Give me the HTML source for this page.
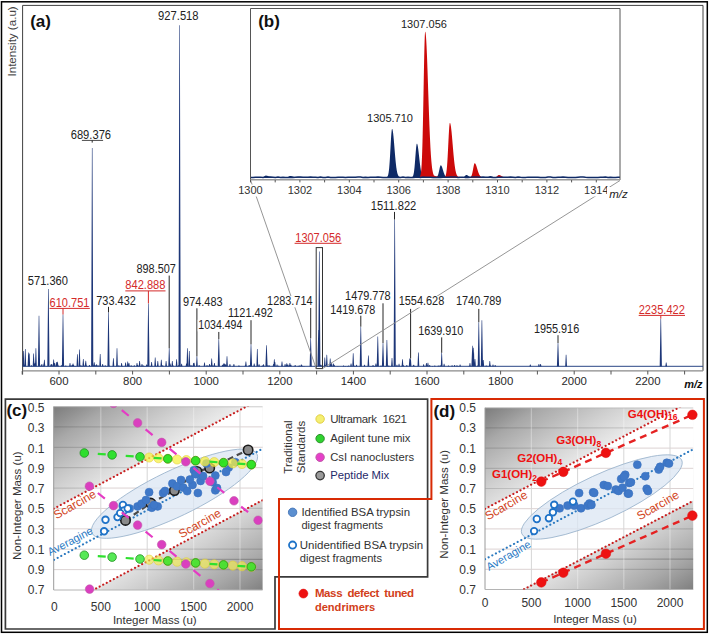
<!DOCTYPE html><html><head><meta charset="utf-8"><style>html,body{margin:0;padding:0;background:#fff;}svg{display:block;}</style></head><body><svg width="709" height="634" viewBox="0 0 709 634" font-family="Liberation Sans, sans-serif">
<defs>
<linearGradient id="gc" gradientUnits="userSpaceOnUse" x1="54.3" y1="406.5" x2="195.4" y2="632.3"><stop offset="0" stop-color="#7c7c7c"/><stop offset="0.06" stop-color="#929292"/><stop offset="0.113" stop-color="#a8a8a8"/><stop offset="0.19" stop-color="#bdbdbd"/><stop offset="0.26" stop-color="#d0d0d0"/><stop offset="0.36" stop-color="#e8e8e8"/><stop offset="0.5" stop-color="#fafafa"/><stop offset="0.64" stop-color="#e8e8e8"/><stop offset="0.74" stop-color="#d0d0d0"/><stop offset="0.81" stop-color="#bdbdbd"/><stop offset="0.887" stop-color="#a8a8a8"/><stop offset="0.94" stop-color="#969696"/><stop offset="1" stop-color="#808080"/></linearGradient>
<linearGradient id="gd" gradientUnits="userSpaceOnUse" x1="485" y1="407.7" x2="624.9" y2="631.5"><stop offset="0" stop-color="#7c7c7c"/><stop offset="0.06" stop-color="#929292"/><stop offset="0.113" stop-color="#a8a8a8"/><stop offset="0.19" stop-color="#bdbdbd"/><stop offset="0.26" stop-color="#d0d0d0"/><stop offset="0.36" stop-color="#e8e8e8"/><stop offset="0.5" stop-color="#fafafa"/><stop offset="0.64" stop-color="#e8e8e8"/><stop offset="0.74" stop-color="#d0d0d0"/><stop offset="0.81" stop-color="#bdbdbd"/><stop offset="0.887" stop-color="#a8a8a8"/><stop offset="0.94" stop-color="#969696"/><stop offset="1" stop-color="#808080"/></linearGradient>
<clipPath id="cc"><rect x="53.7" y="406.5" width="208.9" height="183.5"/></clipPath>
<clipPath id="cd"><rect x="485" y="407.7" width="208.2" height="181.8"/></clipPath>
<clipPath id="bc"><polygon points="53.7,508.7 246.5,406.5 262.6,406.5 262.6,500.2 93.1,590 53.7,590"/></clipPath>
<clipPath id="bd"><polygon points="485,508.8 677,407.7 693.2,407.7 693.2,500.6 522,589.5 485,589.5"/></clipPath>
</defs>
<rect x="0" y="0" width="709" height="634" fill="#fff"/>
<path d="M22.6 374.5 V5.4 H703 V370.8" fill="none" stroke="#404040" stroke-width="1"/>
<line x1="22.6" y1="370.9" x2="703" y2="370.9" stroke="#8a8a8a" stroke-width="1.4"/>
<line x1="22.2" y1="370.9" x2="22.2" y2="374.5" stroke="#555" stroke-width="1"/>
<line x1="59.0" y1="370.9" x2="59.0" y2="374.5" stroke="#555" stroke-width="1"/>
<line x1="95.8" y1="370.9" x2="95.8" y2="374.5" stroke="#555" stroke-width="1"/>
<line x1="132.6" y1="370.9" x2="132.6" y2="374.5" stroke="#555" stroke-width="1"/>
<line x1="169.4" y1="370.9" x2="169.4" y2="374.5" stroke="#555" stroke-width="1"/>
<line x1="206.2" y1="370.9" x2="206.2" y2="374.5" stroke="#555" stroke-width="1"/>
<line x1="243.0" y1="370.9" x2="243.0" y2="374.5" stroke="#555" stroke-width="1"/>
<line x1="279.8" y1="370.9" x2="279.8" y2="374.5" stroke="#555" stroke-width="1"/>
<line x1="316.6" y1="370.9" x2="316.6" y2="374.5" stroke="#555" stroke-width="1"/>
<line x1="353.4" y1="370.9" x2="353.4" y2="374.5" stroke="#555" stroke-width="1"/>
<line x1="390.2" y1="370.9" x2="390.2" y2="374.5" stroke="#555" stroke-width="1"/>
<line x1="427.0" y1="370.9" x2="427.0" y2="374.5" stroke="#555" stroke-width="1"/>
<line x1="463.8" y1="370.9" x2="463.8" y2="374.5" stroke="#555" stroke-width="1"/>
<line x1="500.6" y1="370.9" x2="500.6" y2="374.5" stroke="#555" stroke-width="1"/>
<line x1="537.4" y1="370.9" x2="537.4" y2="374.5" stroke="#555" stroke-width="1"/>
<line x1="574.2" y1="370.9" x2="574.2" y2="374.5" stroke="#555" stroke-width="1"/>
<line x1="611.0" y1="370.9" x2="611.0" y2="374.5" stroke="#555" stroke-width="1"/>
<line x1="647.8" y1="370.9" x2="647.8" y2="374.5" stroke="#555" stroke-width="1"/>
<line x1="684.6" y1="370.9" x2="684.6" y2="374.5" stroke="#555" stroke-width="1"/>
<text x="59.00" y="385.40" font-size="11.4" fill="#2a2a2a" text-anchor="middle" font-weight="normal" font-style="normal" >600</text>
<text x="132.60" y="385.40" font-size="11.4" fill="#2a2a2a" text-anchor="middle" font-weight="normal" font-style="normal" >800</text>
<text x="206.20" y="385.40" font-size="11.4" fill="#2a2a2a" text-anchor="middle" font-weight="normal" font-style="normal" >1000</text>
<text x="279.80" y="385.40" font-size="11.4" fill="#2a2a2a" text-anchor="middle" font-weight="normal" font-style="normal" >1200</text>
<text x="353.40" y="385.40" font-size="11.4" fill="#2a2a2a" text-anchor="middle" font-weight="normal" font-style="normal" >1400</text>
<text x="427.00" y="385.40" font-size="11.4" fill="#2a2a2a" text-anchor="middle" font-weight="normal" font-style="normal" >1600</text>
<text x="500.60" y="385.40" font-size="11.4" fill="#2a2a2a" text-anchor="middle" font-weight="normal" font-style="normal" >1800</text>
<text x="574.20" y="385.40" font-size="11.4" fill="#2a2a2a" text-anchor="middle" font-weight="normal" font-style="normal" >2000</text>
<text x="647.80" y="385.40" font-size="11.4" fill="#2a2a2a" text-anchor="middle" font-weight="normal" font-style="normal" >2200</text>
<text x="702.50" y="388.00" font-size="11" fill="#111" text-anchor="end" font-weight="bold" font-style="italic" >m/z</text>
<text transform="translate(16,41.4) rotate(-90)" font-size="11.6" fill="#444" text-anchor="middle">Intensity (a.u)</text>
<text x="30.20" y="26.80" font-size="17" fill="#111" text-anchor="start" font-weight="bold" font-style="normal" >(a)</text>
<path d="M22.50 366.60L23.10 351.10L23.70 351.10L24.30 366.60ZM24.40 366.60L25.00 349.10L25.60 349.10L26.20 366.60ZM27.60 366.60L28.20 352.50L28.80 352.50L29.40 366.60ZM28.40 366.60L29.00 353.60L29.60 353.60L30.20 366.60ZM32.70 366.60L33.30 353.60L33.90 353.60L34.50 366.60ZM35.00 366.60L35.60 348.30L36.20 348.30L36.80 366.60ZM37.90 366.60L38.72 315.70L39.28 315.70L40.10 366.60ZM43.50 366.60L44.10 359.70L44.70 359.70L45.30 366.60ZM47.30 366.60L48.12 289.00L48.68 289.00L49.50 366.60ZM55.70 366.60L56.30 361.90L56.90 361.90L57.50 366.60ZM61.90 366.60L62.72 314.50L63.28 314.50L64.10 366.60ZM69.10 366.60L69.70 363.00L70.30 363.00L70.90 366.60ZM76.50 366.60L77.10 354.30L77.70 354.30L78.30 366.60ZM78.60 366.60L79.20 349.40L79.80 349.40L80.40 366.60ZM82.40 366.60L83.00 359.10L83.60 359.10L84.20 366.60ZM84.90 366.60L85.50 360.80L86.10 360.80L86.70 366.60ZM91.10 366.60L91.92 148.00L92.48 148.00L93.30 366.60ZM99.30 366.60L99.90 354.00L100.50 354.00L101.10 366.60ZM107.40 366.60L108.22 312.30L108.78 312.30L109.60 366.60ZM112.50 366.60L113.10 358.20L113.70 358.20L114.30 366.60ZM116.10 366.60L116.70 348.30L117.30 348.30L117.90 366.60ZM120.70 366.60L121.30 363.00L121.90 363.00L122.50 366.60ZM124.70 366.60L125.30 362.50L125.90 362.50L126.50 366.60ZM128.10 366.60L128.70 363.00L129.30 363.00L129.90 366.60ZM136.10 366.60L136.70 363.00L137.30 363.00L137.90 366.60ZM141.10 366.60L141.70 364.00L142.30 364.00L142.90 366.60ZM147.30 366.60L148.12 303.40L148.68 303.40L149.50 366.60ZM150.70 366.60L151.30 362.00L151.90 362.00L152.50 366.60ZM154.30 366.60L154.90 357.40L155.50 357.40L156.10 366.60ZM156.90 366.60L157.50 361.00L158.10 361.00L158.70 366.60ZM160.40 366.60L161.00 359.70L161.60 359.70L162.20 366.60ZM165.20 366.60L165.80 361.10L166.40 361.10L167.00 366.60ZM168.30 366.60L168.90 348.30L169.50 348.30L170.10 366.60ZM171.40 366.60L172.00 361.00L172.60 361.00L173.20 366.60ZM175.70 366.60L176.30 359.30L176.90 359.30L177.50 366.60ZM178.50 366.60L179.32 25.20L179.88 25.20L180.70 366.60ZM186.50 366.60L187.10 348.30L187.70 348.30L188.30 366.60ZM188.40 366.60L189.00 351.10L189.60 351.10L190.20 366.60ZM192.60 366.60L193.20 363.00L193.80 363.00L194.40 366.60ZM196.00 366.60L196.60 356.30L197.20 356.30L197.80 366.60ZM203.60 366.60L204.20 362.50L204.80 362.50L205.40 366.60ZM210.80 366.60L211.40 358.50L212.00 358.50L212.60 366.60ZM217.70 366.60L218.52 339.20L219.08 339.20L219.90 366.60ZM226.10 366.60L226.70 356.30L227.30 356.30L227.90 366.60ZM233.00 366.60L233.60 364.00L234.20 364.00L234.80 366.60ZM245.00 366.60L245.60 361.40L246.20 361.40L246.80 366.60ZM249.90 366.60L250.72 344.30L251.28 344.30L252.10 366.60ZM253.30 366.60L253.90 363.50L254.50 363.50L255.10 366.60ZM256.40 366.60L257.00 349.10L257.60 349.10L258.20 366.60ZM265.40 366.60L266.22 345.20L266.78 345.20L267.60 366.60ZM273.40 366.60L274.00 359.30L274.60 359.30L275.20 366.60ZM281.10 366.60L281.70 361.40L282.30 361.40L282.90 366.60ZM285.70 366.60L286.30 364.50L286.90 364.50L287.50 366.60ZM309.60 366.60L310.42 338.40L310.98 338.40L311.80 366.60ZM317.40 366.60L318.22 330.00L318.78 330.00L319.60 366.60ZM318.20 366.60L319.02 251.40L319.58 251.40L320.40 366.60ZM323.90 366.60L324.50 357.40L325.10 357.40L325.70 366.60ZM325.90 366.60L326.50 354.80L327.10 354.80L327.70 366.60ZM329.30 366.60L329.90 358.50L330.50 358.50L331.10 366.60ZM332.70 366.60L333.30 363.50L333.90 363.50L334.50 366.60ZM352.30 366.60L352.90 353.20L353.50 353.20L354.10 366.60ZM359.70 366.60L360.52 326.70L361.08 326.70L361.90 366.60ZM367.50 366.60L368.10 355.50L368.70 355.50L369.30 366.60ZM376.70 366.60L377.52 336.60L378.08 336.60L378.90 366.60ZM381.90 366.60L382.72 343.00L383.28 343.00L384.10 366.60ZM385.80 366.60L386.62 340.00L387.18 340.00L388.00 366.60ZM391.10 366.60L391.70 358.00L392.30 358.00L392.90 366.60ZM393.60 366.60L394.42 219.40L394.98 219.40L395.80 366.60ZM401.60 366.60L402.20 359.30L402.80 359.30L403.40 366.60ZM408.80 366.60L409.40 358.50L410.00 358.50L410.60 366.60ZM409.70 366.60L410.30 358.50L410.90 358.50L411.50 366.60ZM417.50 366.60L418.10 352.50L418.70 352.50L419.30 366.60ZM425.50 366.60L426.10 363.00L426.70 363.00L427.30 366.60ZM440.80 366.60L441.40 352.80L442.00 352.80L442.60 366.60ZM459.20 366.60L459.80 364.50L460.40 364.50L461.00 366.60ZM471.40 366.60L472.22 345.70L472.78 345.70L473.60 366.60ZM472.70 366.60L473.30 347.70L473.90 347.70L474.50 366.60ZM474.10 366.60L474.70 359.00L475.30 359.00L475.90 366.60ZM477.70 366.60L478.52 322.20L479.08 322.20L479.90 366.60ZM480.80 366.60L481.62 320.20L482.18 320.20L483.00 366.60ZM482.40 366.60L483.00 360.00L483.60 360.00L484.20 366.60ZM488.90 366.60L489.50 361.10L490.10 361.10L490.70 366.60ZM492.10 366.60L492.70 364.50L493.30 364.50L493.90 366.60ZM529.40 366.60L530.00 364.50L530.60 364.50L531.20 366.60ZM538.00 366.60L538.60 364.00L539.20 364.00L539.80 366.60ZM539.70 366.60L540.30 364.00L540.90 364.00L541.50 366.60ZM556.90 366.60L557.72 343.00L558.28 343.00L559.10 366.60ZM565.20 366.60L565.80 354.80L566.40 354.80L567.00 366.60ZM659.70 366.60L660.52 318.70L661.08 318.70L661.90 366.60ZM665.30 366.60L665.90 362.40L666.50 362.40L667.10 366.60ZM176.57 366.60L177.17 366.04L177.77 366.04L178.37 366.60ZM332.60 366.60L333.20 366.25L333.80 366.25L334.40 366.60ZM277.72 366.60L278.32 365.79L278.92 365.79L279.52 366.60ZM49.77 366.60L50.37 365.17L50.97 365.17L51.57 366.60ZM39.99 366.60L40.59 365.39L41.19 365.39L41.79 366.60ZM55.42 366.60L56.02 366.15L56.62 366.15L57.22 366.60ZM224.60 366.60L225.20 364.34L225.80 364.34L226.40 366.60ZM81.15 366.60L81.75 365.90L82.35 365.90L82.95 366.60ZM321.39 366.60L321.99 364.18L322.59 364.18L323.19 366.60ZM297.38 366.60L297.98 365.73L298.58 365.73L299.18 366.60ZM487.77 366.60L488.37 366.27L488.97 366.27L489.57 366.60ZM431.59 366.60L432.19 366.05L432.79 366.05L433.39 366.60ZM90.91 366.60L91.51 366.10L92.11 366.10L92.71 366.60ZM169.25 366.60L169.85 363.59L170.45 363.59L171.05 366.60ZM108.31 366.60L108.91 364.91L109.51 364.91L110.11 366.60ZM326.86 366.60L327.46 365.96L328.06 365.96L328.66 366.60ZM283.37 366.60L283.97 366.23L284.57 366.23L285.17 366.60ZM50.53 366.60L51.13 365.93L51.73 365.93L52.33 366.60ZM346.65 366.60L347.25 365.90L347.85 365.90L348.45 366.60ZM171.95 366.60L172.55 364.89L173.15 364.89L173.75 366.60ZM238.27 366.60L238.87 365.90L239.47 365.90L240.07 366.60ZM401.02 366.60L401.62 365.44L402.22 365.44L402.82 366.60ZM138.53 366.60L139.13 364.93L139.73 364.93L140.33 366.60ZM272.62 366.60L273.22 363.97L273.82 363.97L274.42 366.60ZM370.05 366.60L370.65 366.06L371.25 366.06L371.85 366.60ZM489.64 366.60L490.24 366.21L490.84 366.21L491.44 366.60ZM221.54 366.60L222.14 364.71L222.74 364.71L223.34 366.60ZM94.60 366.60L95.20 365.23L95.80 365.23L96.40 366.60ZM40.80 366.60L41.40 364.53L42.00 364.53L42.60 366.60ZM386.80 366.60L387.40 365.69L388.00 365.69L388.60 366.60ZM439.70 366.60L440.30 366.03L440.90 366.03L441.50 366.60ZM353.76 366.60L354.36 365.65L354.96 365.65L355.56 366.60ZM298.71 366.60L299.31 365.62L299.91 365.62L300.51 366.60ZM422.76 366.60L423.36 364.22L423.96 364.22L424.56 366.60ZM248.24 366.60L248.84 365.08L249.44 365.08L250.04 366.60ZM51.04 366.60L51.64 364.37L52.24 364.37L52.84 366.60ZM330.78 366.60L331.38 362.72L331.98 362.72L332.58 366.60ZM414.16 366.60L414.76 366.06L415.36 366.06L415.96 366.60ZM206.12 366.60L206.72 365.06L207.32 365.06L207.92 366.60ZM32.86 366.60L33.46 365.31L34.06 365.31L34.66 366.60ZM102.26 366.60L102.86 366.10L103.46 366.10L104.06 366.60ZM50.22 366.60L50.82 363.96L51.42 363.96L52.02 366.60ZM83.80 366.60L84.40 365.84L85.00 365.84L85.60 366.60ZM208.58 366.60L209.18 364.00L209.78 364.00L210.38 366.60ZM60.54 366.60L61.14 365.35L61.74 365.35L62.34 366.60ZM284.18 366.60L284.78 363.89L285.38 363.89L285.98 366.60ZM412.90 366.60L413.50 364.86L414.10 364.86L414.70 366.60ZM154.91 366.60L155.51 365.44L156.11 365.44L156.71 366.60ZM193.23 366.60L193.83 362.85L194.43 362.85L195.03 366.60ZM478.94 366.60L479.54 366.18L480.14 366.18L480.74 366.60ZM106.16 366.60L106.76 365.88L107.36 365.88L107.96 366.60ZM133.40 366.60L134.00 365.24L134.60 365.24L135.20 366.60ZM303.11 366.60L303.71 366.08L304.31 366.08L304.91 366.60ZM24.05 366.60L24.65 365.43L25.25 365.43L25.85 366.60ZM198.23 366.60L198.83 364.96L199.43 364.96L200.03 366.60ZM476.73 366.60L477.33 365.46L477.93 365.46L478.53 366.60ZM267.99 366.60L268.59 365.22L269.19 365.22L269.79 366.60ZM344.65 366.60L345.25 366.26L345.85 366.26L346.45 366.60ZM451.18 366.60L451.78 365.21L452.38 365.21L452.98 366.60ZM439.24 366.60L439.84 365.15L440.44 365.15L441.04 366.60ZM209.26 366.60L209.86 365.73L210.46 365.73L211.06 366.60ZM71.49 366.60L72.09 364.69L72.69 364.69L73.29 366.60ZM51.79 366.60L52.39 366.19L52.99 366.19L53.59 366.60ZM121.68 366.60L122.28 366.02L122.88 366.02L123.48 366.60ZM184.31 366.60L184.91 366.21L185.51 366.21L186.11 366.60ZM22.21 366.60L22.81 366.04L23.41 366.04L24.01 366.60ZM70.50 366.60L71.10 365.58L71.70 365.58L72.30 366.60ZM34.26 366.60L34.86 362.98L35.46 362.98L36.06 366.60ZM315.01 366.60L315.61 366.18L316.21 366.18L316.81 366.60ZM142.43 366.60L143.03 365.62L143.63 365.62L144.23 366.60ZM195.81 366.60L196.41 366.09L197.01 366.09L197.61 366.60ZM427.04 366.60L427.64 362.72L428.24 362.72L428.84 366.60ZM244.38 366.60L244.98 365.56L245.58 365.56L246.18 366.60ZM63.07 366.60L63.67 366.13L64.27 366.13L64.87 366.60ZM185.54 366.60L186.14 365.81L186.74 365.81L187.34 366.60ZM417.46 366.60L418.06 366.17L418.66 366.17L419.26 366.60ZM33.12 366.60L33.72 361.47L34.32 361.47L34.92 366.60ZM274.08 366.60L274.68 366.12L275.28 366.12L275.88 366.60ZM281.19 366.60L281.79 366.27L282.39 366.27L282.99 366.60ZM274.01 366.60L274.61 362.00L275.21 362.00L275.81 366.60ZM433.91 366.60L434.51 365.44L435.11 365.44L435.71 366.60ZM146.65 366.60L147.25 365.57L147.85 365.57L148.45 366.60ZM101.78 366.60L102.38 363.93L102.98 363.93L103.58 366.60ZM276.15 366.60L276.75 364.61L277.35 364.61L277.95 366.60ZM179.35 366.60L179.95 365.90L180.55 365.90L181.15 366.60ZM409.19 366.60L409.79 363.28L410.39 363.28L410.99 366.60ZM428.80 366.60L429.40 365.12L430.00 365.12L430.60 366.60ZM412.44 366.60L413.04 365.33L413.64 365.33L414.24 366.60ZM130.25 366.60L130.85 365.13L131.45 365.13L132.05 366.60ZM191.70 366.60L192.30 366.25L192.90 366.25L193.50 366.60ZM35.43 366.60L36.03 365.78L36.63 365.78L37.23 366.60ZM145.73 366.60L146.33 364.41L146.93 364.41L147.53 366.60ZM478.36 366.60L478.96 365.87L479.56 365.87L480.16 366.60ZM469.06 366.60L469.66 363.11L470.26 363.11L470.86 366.60ZM477.64 366.60L478.24 365.97L478.84 365.97L479.44 366.60ZM127.26 366.60L127.86 365.89L128.46 365.89L129.06 366.60ZM115.93 366.60L116.53 365.93L117.13 365.93L117.73 366.60ZM319.78 366.60L320.38 364.64L320.98 364.64L321.58 366.60ZM422.99 366.60L423.59 365.83L424.19 365.83L424.79 366.60ZM333.57 366.60L334.17 365.14L334.77 365.14L335.37 366.60ZM62.54 366.60L63.14 364.57L63.74 364.57L64.34 366.60ZM456.06 366.60L456.66 365.20L457.26 365.20L457.86 366.60ZM379.92 366.60L380.52 365.83L381.12 365.83L381.72 366.60ZM107.25 366.60L107.85 363.81L108.45 363.81L109.05 366.60ZM180.71 366.60L181.31 363.72L181.91 363.72L182.51 366.60ZM485.58 366.60L486.18 365.94L486.78 365.94L487.38 366.60ZM213.56 366.60L214.16 363.01L214.76 363.01L215.36 366.60ZM367.83 366.60L368.43 366.17L369.03 366.17L369.63 366.60ZM82.70 366.60L83.30 366.04L83.90 366.04L84.50 366.60ZM453.71 366.60L454.31 365.12L454.91 365.12L455.51 366.60ZM91.83 366.60L92.43 363.50L93.03 363.50L93.63 366.60ZM489.71 366.60L490.31 365.53L490.91 365.53L491.51 366.60ZM189.24 366.60L189.84 365.03L190.44 365.03L191.04 366.60ZM84.58 366.60L85.18 366.28L85.78 366.28L86.38 366.60ZM485.21 366.60L485.81 365.54L486.41 365.54L487.01 366.60ZM273.28 366.60L273.88 363.26L274.48 363.26L275.08 366.60ZM229.03 366.60L229.63 364.00L230.23 364.00L230.83 366.60ZM416.18 366.60L416.78 366.13L417.38 366.13L417.98 366.60ZM142.23 366.60L142.83 365.75L143.43 365.75L144.03 366.60ZM136.84 366.60L137.44 364.89L138.04 364.89L138.64 366.60ZM145.82 366.60L146.42 365.43L147.02 365.43L147.62 366.60ZM84.62 366.60L85.22 362.45L85.82 362.45L86.42 366.60ZM190.85 366.60L191.45 365.32L192.05 365.32L192.65 366.60ZM300.36 366.60L300.96 364.61L301.56 364.61L302.16 366.60ZM222.74 366.60L223.34 363.50L223.94 363.50L224.54 366.60ZM261.39 366.60L261.99 365.45L262.59 365.45L263.19 366.60ZM271.81 366.60L272.41 366.28L273.01 366.28L273.61 366.60ZM232.04 366.60L232.64 366.07L233.24 366.07L233.84 366.60ZM23.98 366.60L24.58 363.73L25.18 363.73L25.78 366.60ZM104.31 366.60L104.91 365.27L105.51 365.27L106.11 366.60ZM368.02 366.60L368.62 365.71L369.22 365.71L369.82 366.60ZM177.59 366.60L178.19 365.13L178.79 365.13L179.39 366.60ZM287.05 366.60L287.65 364.58L288.25 364.58L288.85 366.60ZM72.71 366.60L73.31 364.99L73.91 364.99L74.51 366.60ZM140.63 366.60L141.23 365.78L141.83 365.78L142.43 366.60ZM390.47 366.60L391.07 365.79L391.67 365.79L392.27 366.60ZM290.04 366.60L290.64 364.70L291.24 364.70L291.84 366.60ZM457.36 366.60L457.96 365.88L458.56 365.88L459.16 366.60ZM314.28 366.60L314.88 365.79L315.48 365.79L316.08 366.60ZM266.40 366.60L267.00 364.98L267.60 364.98L268.20 366.60ZM237.87 366.60L238.47 365.45L239.07 365.45L239.67 366.60ZM250.12 366.60L250.72 363.12L251.32 363.12L251.92 366.60ZM355.63 366.60L356.23 364.79L356.83 364.79L357.43 366.60ZM471.52 366.60L472.12 366.08L472.72 366.08L473.32 366.60ZM288.99 366.60L289.59 363.09L290.19 363.09L290.79 366.60ZM422.78 366.60L423.38 366.19L423.98 366.19L424.58 366.60ZM80.11 366.60L80.71 365.37L81.31 365.37L81.91 366.60ZM56.70 366.60L57.30 365.86L57.90 365.86L58.50 366.60ZM56.98 366.60L57.58 364.53L58.18 364.53L58.78 366.60ZM396.04 366.60L396.64 364.66L397.24 364.66L397.84 366.60ZM95.77 366.60L96.37 364.29L96.97 364.29L97.57 366.60ZM337.04 366.60L337.64 366.19L338.24 366.19L338.84 366.60ZM443.21 366.60L443.81 363.83L444.41 363.83L445.01 366.60ZM126.84 366.60L127.44 361.42L128.04 361.42L128.64 366.60ZM212.07 366.60L212.67 365.55L213.27 365.55L213.87 366.60ZM494.27 366.60L494.87 365.01L495.47 365.01L496.07 366.60ZM99.12 366.60L99.72 365.40L100.32 365.40L100.92 366.60ZM268.04 366.60L268.64 365.84L269.24 365.84L269.84 366.60ZM115.47 366.60L116.07 365.69L116.67 365.69L117.27 366.60ZM366.57 366.60L367.17 366.29L367.77 366.29L368.37 366.60ZM286.38 366.60L286.98 365.65L287.58 365.65L288.18 366.60ZM30.73 366.60L31.33 365.66L31.93 365.66L32.53 366.60ZM319.71 366.60L320.31 365.78L320.91 365.78L321.51 366.60ZM52.77 366.60L53.37 359.57L53.97 359.57L54.57 366.60ZM398.15 366.60L398.75 363.73L399.35 363.73L399.95 366.60ZM72.08 366.60L72.68 365.81L73.28 365.81L73.88 366.60ZM40.98 366.60L41.58 363.88L42.18 363.88L42.78 366.60ZM151.10 366.60L151.70 366.08L152.30 366.08L152.90 366.60ZM223.52 366.60L224.12 363.59L224.72 363.59L225.32 366.60ZM412.75 366.60L413.35 366.08L413.95 366.08L414.55 366.60ZM93.35 366.60L93.95 362.28L94.55 362.28L95.15 366.60ZM294.27 366.60L294.87 364.95L295.47 364.95L296.07 366.60ZM64.77 366.60L65.37 366.21L65.97 366.21L66.57 366.60ZM350.37 366.60L350.97 365.90L351.57 365.90L352.17 366.60ZM56.64 366.60L57.24 361.84L57.84 361.84L58.44 366.60ZM324.73 366.60L325.33 365.14L325.93 365.14L326.53 366.60ZM62.05 366.60L62.65 363.20L63.25 363.20L63.85 366.60ZM53.88 366.60L54.48 363.12L55.08 363.12L55.68 366.60ZM238.55 366.60L239.15 365.84L239.75 365.84L240.35 366.60ZM285.91 366.60L286.51 363.37L287.11 363.37L287.71 366.60ZM149.87 366.60L150.47 366.08L151.07 366.08L151.67 366.60ZM273.44 366.60L274.04 365.99L274.64 365.99L275.24 366.60ZM74.31 366.60L74.91 366.02L75.51 366.02L76.11 366.60ZM46.13 366.60L46.73 365.94L47.33 365.94L47.93 366.60ZM170.92 366.60L171.52 365.72L172.12 365.72L172.72 366.60ZM384.38 366.60L384.98 366.05L385.58 366.05L386.18 366.60ZM260.64 366.60L261.24 366.08L261.84 366.08L262.44 366.60ZM187.62 366.60L188.22 366.27L188.82 366.27L189.42 366.60ZM141.56 366.60L142.16 366.28L142.76 366.28L143.36 366.60ZM371.78 366.60L372.38 365.72L372.98 365.72L373.58 366.60ZM112.47 366.60L113.07 365.27L113.67 365.27L114.27 366.60ZM467.92 366.60L468.52 366.22L469.12 366.22L469.72 366.60ZM412.72 366.60L413.32 365.89L413.92 365.89L414.52 366.60ZM258.22 366.60L258.82 364.28L259.42 364.28L260.02 366.60ZM209.60 366.60L210.20 365.51L210.80 365.51L211.40 366.60ZM350.15 366.60L350.75 363.39L351.35 363.39L351.95 366.60ZM185.57 366.60L186.17 363.44L186.77 363.44L187.37 366.60ZM359.21 366.60L359.81 365.57L360.41 365.57L361.01 366.60ZM215.14 366.60L215.74 365.82L216.34 365.82L216.94 366.60ZM48.04 366.60L48.64 366.08L49.24 366.08L49.84 366.60ZM55.83 366.60L56.43 364.14L57.03 364.14L57.63 366.60ZM144.02 366.60L144.62 366.01L145.22 366.01L145.82 366.60ZM62.40 366.60L63.00 363.36L63.60 363.36L64.20 366.60ZM437.35 366.60L437.95 365.50L438.55 365.50L439.15 366.60ZM156.58 366.60L157.18 365.86L157.78 365.86L158.38 366.60ZM161.89 366.60L162.49 365.32L163.09 365.32L163.69 366.60ZM97.24 366.60L97.84 365.36L98.44 365.36L99.04 366.60ZM147.67 366.60L148.27 361.08L148.87 361.08L149.47 366.60ZM486.04 366.60L486.64 365.73L487.24 365.73L487.84 366.60ZM138.70 366.60L139.30 360.91L139.90 360.91L140.50 366.60ZM169.75 366.60L170.35 365.59L170.95 365.59L171.55 366.60ZM22.61 366.60L23.21 365.53L23.81 365.53L24.41 366.60ZM248.51 366.60L249.11 365.52L249.71 365.52L250.31 366.60ZM117.97 366.60L118.57 365.18L119.17 365.18L119.77 366.60ZM24.46 366.60L25.06 365.81L25.66 365.81L26.26 366.60ZM64.91 366.60L65.51 365.48L66.11 365.48L66.71 366.60ZM41.98 366.60L42.58 366.26L43.18 366.26L43.78 366.60ZM167.22 366.60L167.82 365.88L168.42 365.88L169.02 366.60ZM301.42 366.60L302.02 365.76L302.62 365.76L303.22 366.60ZM380.11 366.60L380.71 365.53L381.31 365.53L381.91 366.60ZM363.63 366.60L364.23 364.78L364.83 364.78L365.43 366.60ZM207.90 366.60L208.50 365.86L209.10 365.86L209.70 366.60ZM491.82 366.60L492.42 366.18L493.02 366.18L493.62 366.60ZM367.52 366.60L368.12 365.56L368.72 365.56L369.32 366.60ZM42.99 366.60L43.59 363.41L44.19 363.41L44.79 366.60ZM447.56 366.60L448.16 365.59L448.76 365.59L449.36 366.60ZM372.15 366.60L372.75 365.10L373.35 365.10L373.95 366.60ZM88.55 366.60L89.15 365.11L89.75 365.11L90.35 366.60ZM262.68 366.60L263.28 364.28L263.88 364.28L264.48 366.60ZM405.93 366.60L406.53 365.04L407.13 365.04L407.73 366.60ZM300.70 366.60L301.30 364.69L301.90 364.69L302.50 366.60ZM347.84 366.60L348.44 365.45L349.04 365.45L349.64 366.60ZM131.78 366.60L132.38 366.25L132.98 366.25L133.58 366.60ZM85.59 366.60L86.19 365.58L86.79 365.58L87.39 366.60ZM72.15 366.60L72.75 363.41L73.35 363.41L73.95 366.60ZM288.52 366.60L289.12 365.19L289.72 365.19L290.32 366.60ZM320.81 366.60L321.41 365.48L322.01 365.48L322.61 366.60ZM255.49 366.60L256.09 366.30L256.69 366.30L257.29 366.60ZM402.60 366.60L403.20 365.31L403.80 365.31L404.40 366.60ZM262.02 366.60L262.62 365.44L263.22 365.44L263.82 366.60ZM336.59 366.60L337.19 366.25L337.79 366.25L338.39 366.60ZM373.55 366.60L374.15 366.09L374.75 366.09L375.35 366.60ZM57.61 366.60L58.21 365.81L58.81 365.81L59.41 366.60ZM369.99 366.60L370.59 366.13L371.19 366.13L371.79 366.60ZM375.00 366.60L375.60 363.62L376.20 363.62L376.80 366.60ZM257.71 366.60L258.31 365.76L258.91 365.76L259.51 366.60ZM250.59 366.60L251.19 365.01L251.79 365.01L252.39 366.60ZM387.94 366.60L388.54 365.61L389.14 365.61L389.74 366.60ZM328.70 366.60L329.30 366.24L329.90 366.24L330.50 366.60ZM92.42 366.60L93.02 365.83L93.62 365.83L94.22 366.60ZM376.61 366.60L377.21 366.04L377.81 366.04L378.41 366.60ZM292.92 366.60L293.52 366.29L294.12 366.29L294.72 366.60ZM51.04 366.60L51.64 365.80L52.24 365.80L52.84 366.60ZM342.64 366.60L343.24 365.45L343.84 365.45L344.44 366.60ZM344.41 366.60L345.01 366.05L345.61 366.05L346.21 366.60ZM268.49 366.60L269.09 365.60L269.69 365.60L270.29 366.60ZM244.54 366.60L245.14 366.16L245.74 366.16L246.34 366.60ZM448.38 366.60L448.98 366.14L449.58 366.14L450.18 366.60ZM488.67 366.60L489.27 364.32L489.87 364.32L490.47 366.60ZM30.45 366.60L31.05 365.32L31.65 365.32L32.25 366.60Z" fill="#1d3678"/>
<line x1="22.6" y1="366.3" x2="703" y2="366.3" stroke="#2a4585" stroke-width="1"/>
<line x1="108.5" y1="306.4" x2="108.5" y2="312.3" stroke="#262626" stroke-width="1"/>
<line x1="169.2" y1="275.4" x2="169.2" y2="348.3" stroke="#262626" stroke-width="1"/>
<line x1="196.9" y1="308.2" x2="196.9" y2="356.3" stroke="#262626" stroke-width="1"/>
<line x1="218.8" y1="331.9" x2="218.8" y2="339.2" stroke="#262626" stroke-width="1"/>
<line x1="251" y1="320.2" x2="251" y2="344.3" stroke="#262626" stroke-width="1"/>
<line x1="310.7" y1="307.9" x2="310.7" y2="338.4" stroke="#262626" stroke-width="1"/>
<line x1="360.8" y1="315.3" x2="360.8" y2="326.7" stroke="#262626" stroke-width="1"/>
<line x1="383" y1="303.3" x2="383" y2="343" stroke="#262626" stroke-width="1"/>
<line x1="394.5" y1="211.6" x2="394.5" y2="219.5" stroke="#262626" stroke-width="1"/>
<line x1="410.6" y1="308.9" x2="410.6" y2="358.5" stroke="#262626" stroke-width="1"/>
<line x1="441.7" y1="337.1" x2="441.7" y2="352.8" stroke="#262626" stroke-width="1"/>
<line x1="478.8" y1="308.9" x2="478.8" y2="322.2" stroke="#262626" stroke-width="1"/>
<line x1="558" y1="334.8" x2="558" y2="343" stroke="#262626" stroke-width="1"/>
<rect x="316.2" y="247.6" width="6.3" height="121" fill="none" stroke="#333" stroke-width="1"/>
<line x1="250.5" y1="180" x2="316.2" y2="368.6" stroke="#8a8a8a" stroke-width="0.9"/>
<line x1="620" y1="180.5" x2="322.5" y2="368.6" stroke="#8a8a8a" stroke-width="0.9"/>
<rect x="157.5" y="10.1" width="41.7" height="12.1" fill="#fff"/>
<text x="158.10" y="20.10" font-size="12" fill="#222" text-anchor="start" font-weight="normal" font-style="normal" textLength="40.5" lengthAdjust="spacingAndGlyphs">927.518</text>
<rect x="70.1" y="128.6" width="41.6" height="12.4" fill="#fff"/>
<text x="70.70" y="138.90" font-size="12" fill="#222" text-anchor="start" font-weight="normal" font-style="normal" textLength="40.4" lengthAdjust="spacingAndGlyphs">689.376</text>
<rect x="27.2" y="275.8" width="41.4" height="11.7" fill="#fff"/>
<text x="27.80" y="285.40" font-size="12" fill="#222" text-anchor="start" font-weight="normal" font-style="normal" textLength="40.2" lengthAdjust="spacingAndGlyphs">571.360</text>
<rect x="49.0" y="296.7" width="41.0" height="12.3" fill="#fff"/>
<text x="49.60" y="306.90" font-size="12" fill="#d42a2a" text-anchor="start" font-weight="normal" font-style="normal" textLength="39.8" lengthAdjust="spacingAndGlyphs">610.751</text>
<rect x="95.7" y="295.7" width="40.7" height="11.0" fill="#fff"/>
<text x="96.30" y="304.60" font-size="12" fill="#222" text-anchor="start" font-weight="normal" font-style="normal" textLength="39.5" lengthAdjust="spacingAndGlyphs">733.432</text>
<rect x="124.7" y="279.8" width="41.4" height="11.0" fill="#fff"/>
<text x="125.30" y="288.70" font-size="12" fill="#d42a2a" text-anchor="start" font-weight="normal" font-style="normal" textLength="40.2" lengthAdjust="spacingAndGlyphs">842.888</text>
<rect x="135.9" y="264.0" width="40.5" height="11.3" fill="#fff"/>
<text x="136.50" y="273.20" font-size="12" fill="#222" text-anchor="start" font-weight="normal" font-style="normal" textLength="39.3" lengthAdjust="spacingAndGlyphs">898.507</text>
<rect x="182.5" y="296.8" width="40.7" height="11.3" fill="#fff"/>
<text x="183.10" y="306.00" font-size="12" fill="#222" text-anchor="start" font-weight="normal" font-style="normal" textLength="39.5" lengthAdjust="spacingAndGlyphs">974.483</text>
<rect x="197.7" y="319.7" width="45.2" height="11.7" fill="#fff"/>
<text x="198.30" y="329.30" font-size="12" fill="#222" text-anchor="start" font-weight="normal" font-style="normal" textLength="44.0" lengthAdjust="spacingAndGlyphs">1034.494</text>
<rect x="227.4" y="307.8" width="46.0" height="11.6" fill="#fff"/>
<text x="228.00" y="317.30" font-size="12" fill="#222" text-anchor="start" font-weight="normal" font-style="normal" textLength="44.8" lengthAdjust="spacingAndGlyphs">1121.492</text>
<rect x="266.5" y="296.0" width="46.6" height="11.3" fill="#fff"/>
<text x="267.10" y="305.20" font-size="12" fill="#222" text-anchor="start" font-weight="normal" font-style="normal" textLength="45.4" lengthAdjust="spacingAndGlyphs">1283.714</text>
<rect x="294.7" y="231.9" width="47.0" height="12.0" fill="#fff"/>
<text x="295.30" y="241.80" font-size="12" fill="#d42a2a" text-anchor="start" font-weight="normal" font-style="normal" textLength="45.8" lengthAdjust="spacingAndGlyphs">1307.056</text>
<rect x="329.6" y="304.3" width="46.3" height="11.3" fill="#fff"/>
<text x="330.20" y="313.50" font-size="12" fill="#222" text-anchor="start" font-weight="normal" font-style="normal" textLength="45.1" lengthAdjust="spacingAndGlyphs">1419.678</text>
<rect x="344.5" y="291.5" width="46.6" height="11.0" fill="#fff"/>
<text x="345.10" y="300.40" font-size="12" fill="#222" text-anchor="start" font-weight="normal" font-style="normal" textLength="45.4" lengthAdjust="spacingAndGlyphs">1479.778</text>
<rect x="370.1" y="199.8" width="46.8" height="12.0" fill="#fff"/>
<text x="370.70" y="209.70" font-size="12" fill="#222" text-anchor="start" font-weight="normal" font-style="normal" textLength="45.6" lengthAdjust="spacingAndGlyphs">1511.822</text>
<rect x="398.1" y="296.1" width="46.8" height="11.3" fill="#fff"/>
<text x="398.70" y="305.30" font-size="12" fill="#222" text-anchor="start" font-weight="normal" font-style="normal" textLength="45.6" lengthAdjust="spacingAndGlyphs">1554.628</text>
<rect x="417.6" y="326.5" width="46.3" height="10.8" fill="#fff"/>
<text x="418.20" y="335.20" font-size="12" fill="#222" text-anchor="start" font-weight="normal" font-style="normal" textLength="45.1" lengthAdjust="spacingAndGlyphs">1639.910</text>
<rect x="455.4" y="296.1" width="46.6" height="11.3" fill="#fff"/>
<text x="456.00" y="305.30" font-size="12" fill="#222" text-anchor="start" font-weight="normal" font-style="normal" textLength="45.4" lengthAdjust="spacingAndGlyphs">1740.789</text>
<rect x="533.3" y="323.9" width="46.5" height="11.3" fill="#fff"/>
<text x="533.90" y="333.10" font-size="12" fill="#222" text-anchor="start" font-weight="normal" font-style="normal" textLength="45.3" lengthAdjust="spacingAndGlyphs">1955.916</text>
<rect x="638.1" y="304.7" width="47.4" height="11.1" fill="#fff"/>
<text x="638.70" y="313.70" font-size="12" fill="#d42a2a" text-anchor="start" font-weight="normal" font-style="normal" textLength="46.2" lengthAdjust="spacingAndGlyphs">2235.422</text>
<line x1="81.9" y1="140.4" x2="103.1" y2="140.4" stroke="#333" stroke-width="0.9"/><line x1="92.2" y1="140.4" x2="92.2" y2="142.6" stroke="#262626" stroke-width="1"/>
<line x1="49.6" y1="308.4" x2="89.8" y2="308.4" stroke="#d42a2a" stroke-width="1"/>
<line x1="63" y1="308.4" x2="63" y2="314.5" stroke="#d42a2a" stroke-width="1"/>
<line x1="125.3" y1="290.9" x2="165.5" y2="290.9" stroke="#d42a2a" stroke-width="1"/>
<line x1="148.4" y1="290.9" x2="148.4" y2="303.4" stroke="#d42a2a" stroke-width="1"/>
<line x1="294.6" y1="243.3" x2="341.5" y2="243.3" stroke="#d42a2a" stroke-width="1"/>
<line x1="638.7" y1="315.4" x2="685" y2="315.4" stroke="#d42a2a" stroke-width="1"/>
<line x1="660.8" y1="315.4" x2="660.8" y2="318.7" stroke="#d42a2a" stroke-width="1"/>
<rect x="250.5" y="8.5" width="369.5" height="171.2" fill="#fff"/>
<path d="M386.10 177.90L386.10 177.25L386.20 177.24L386.30 177.22L386.40 177.20L386.50 177.18L386.60 177.15L386.70 177.12L386.80 177.08L386.90 177.03L387.00 176.97L387.10 176.90L387.20 176.81L387.30 176.72L387.40 176.60L387.50 176.46L387.60 176.30L387.70 176.12L387.80 175.90L387.90 175.65L388.00 175.37L388.10 175.05L388.20 174.68L388.30 174.26L388.40 173.79L388.50 173.26L388.60 172.68L388.70 172.02L388.80 171.30L388.90 170.50L389.00 169.63L389.10 168.68L389.20 167.65L389.30 166.53L389.40 165.33L389.50 164.06L389.60 162.69L389.70 161.26L389.80 159.74L389.90 158.16L390.00 156.52L390.10 154.82L390.20 153.07L390.30 151.29L390.40 149.49L390.50 147.67L390.60 145.86L390.70 144.06L390.80 142.29L390.90 140.58L391.00 138.92L391.10 137.34L391.20 135.86L391.30 134.49L391.40 133.24L391.50 132.13L391.60 131.16L391.70 130.36L391.80 129.73L391.90 129.27L392.00 128.99L392.10 128.90L392.20 128.94L392.30 129.07L392.40 129.28L392.50 129.58L392.60 129.96L392.70 130.42L392.80 130.96L392.90 131.57L393.00 132.25L393.10 133.01L393.20 133.82L393.30 134.70L393.40 135.63L393.50 136.62L393.60 137.65L393.70 138.73L393.80 139.84L393.90 140.98L394.00 142.15L394.10 143.35L394.20 144.56L394.30 145.78L394.40 147.02L394.50 148.25L394.60 149.49L394.70 150.72L394.80 151.94L394.90 153.14L395.00 154.33L395.10 155.50L395.20 156.65L395.30 157.77L395.40 158.87L395.50 159.93L395.60 160.96L395.70 161.96L395.80 162.92L395.90 163.84L396.00 164.73L396.10 165.58L396.20 166.39L396.30 167.17L396.40 167.90L396.50 168.60L396.60 169.26L396.70 169.88L396.80 170.47L396.90 171.02L397.00 171.54L397.10 172.02L397.20 172.47L397.30 172.90L397.40 173.29L397.50 173.65L397.60 173.99L397.70 174.30L397.80 174.58L397.90 174.85L398.00 175.09L398.10 175.31L398.20 175.51L398.30 175.70L398.40 175.86L398.50 176.02L398.60 176.16L398.70 176.28L398.80 176.39L398.90 176.50L399.00 176.59L399.10 176.67L399.20 176.75L399.30 176.81L399.40 176.87L399.50 176.92L399.60 176.94L399.70 176.95L399.80 176.95L399.90 176.96L400.00 176.97L400.10 176.98L400.20 176.99L400.30 176.99L400.40 177.00L400.50 177.01L400.60 177.01L400.70 177.02L400.80 177.03L400.90 177.03L401.00 177.04L401.10 177.05L401.20 177.05L401.30 177.06L401.40 177.06L401.50 177.07L401.60 177.08L401.70 177.08L401.80 177.09L401.90 177.09L402.00 177.10L402.10 177.10L402.20 177.11L402.30 177.11L402.40 177.11L402.50 177.12L402.60 177.12L402.70 177.13L402.80 177.13L402.90 177.14L403.00 177.14L403.10 177.14L403.20 177.15L403.30 177.15L403.40 177.15L403.50 177.16L403.60 177.16L403.70 177.16L403.80 177.17L403.90 177.17L404.00 177.17L404.10 177.18L404.20 177.18L404.30 177.18L404.40 177.19L404.50 177.19L404.60 177.19L404.70 177.19L404.80 177.20L404.90 177.20L405.00 177.20L405.10 177.20L405.20 177.21L405.30 177.21L405.40 177.21L405.50 177.21L405.60 177.21L405.70 177.22L405.80 177.22L405.90 177.22L406.00 177.22L406.10 177.22L406.10 177.90ZM410.90 177.90L410.90 177.28L411.00 177.28L411.10 177.27L411.20 177.27L411.30 177.26L411.40 177.25L411.50 177.23L411.60 177.22L411.70 177.20L411.80 177.17L411.90 177.14L412.00 177.10L412.10 177.06L412.20 177.00L412.30 176.93L412.40 176.86L412.50 176.76L412.60 176.65L412.70 176.52L412.80 176.37L412.90 176.20L413.00 176.00L413.10 175.76L413.20 175.50L413.30 175.19L413.40 174.85L413.50 174.46L413.60 174.02L413.70 173.53L413.80 172.99L413.90 172.39L414.00 171.73L414.10 171.00L414.20 170.22L414.30 169.37L414.40 168.46L414.50 167.48L414.60 166.45L414.70 165.35L414.80 164.20L414.90 163.00L415.00 161.76L415.10 160.48L415.20 159.18L415.30 157.85L415.40 156.52L415.50 155.19L415.60 153.88L415.70 152.60L415.80 151.35L415.90 150.16L416.00 149.04L416.10 147.99L416.20 147.04L416.30 146.19L416.40 145.45L416.50 144.83L416.60 144.34L416.70 143.99L416.80 143.77L416.90 143.70L417.00 143.73L417.10 143.83L417.20 144.00L417.30 144.23L417.40 144.52L417.50 144.87L417.60 145.29L417.70 145.76L417.80 146.28L417.90 146.86L418.00 147.48L418.10 148.15L418.20 148.87L418.30 149.61L418.40 150.40L418.50 151.21L418.60 152.04L418.70 152.90L418.80 153.78L418.90 154.67L419.00 155.56L419.10 156.47L419.20 157.37L419.30 158.28L419.40 159.18L419.50 160.07L419.60 160.95L419.70 161.81L419.80 162.66L419.90 163.49L420.00 164.29L420.10 165.08L420.20 165.84L420.30 166.57L420.40 167.28L420.50 167.96L420.60 168.61L420.70 169.23L420.80 169.82L420.90 170.38L421.00 170.91L421.10 171.42L421.20 171.89L421.30 172.33L421.40 172.75L421.50 173.14L421.60 173.51L421.70 173.85L421.80 174.16L421.90 174.46L422.00 174.73L422.10 174.97L422.20 175.20L422.30 175.41L422.40 175.61L422.50 175.78L422.60 175.94L422.70 176.09L422.80 176.22L422.90 176.34L423.00 176.45L423.10 176.55L423.20 176.63L423.30 176.71L423.40 176.78L423.50 176.85L423.60 176.90L423.70 176.95L423.80 177.00L423.90 177.03L424.00 177.05L424.10 177.05L424.20 177.06L424.30 177.07L424.40 177.07L424.50 177.08L424.60 177.08L424.70 177.09L424.80 177.09L424.90 177.10L425.00 177.10L425.10 177.11L425.20 177.11L425.30 177.12L425.40 177.12L425.50 177.13L425.60 177.13L425.70 177.14L425.80 177.14L425.90 177.14L426.00 177.15L426.10 177.15L426.20 177.16L426.30 177.16L426.40 177.16L426.50 177.17L426.60 177.17L426.70 177.17L426.80 177.18L426.90 177.18L427.00 177.18L427.10 177.18L427.20 177.19L427.30 177.19L427.40 177.19L427.50 177.20L427.60 177.20L427.70 177.20L427.80 177.20L427.90 177.21L428.00 177.21L428.10 177.21L428.20 177.21L428.30 177.22L428.40 177.22L428.50 177.22L428.60 177.22L428.70 177.22L428.80 177.23L428.90 177.23L429.00 177.23L429.10 177.23L429.20 177.23L429.30 177.23L429.40 177.24L429.50 177.24L429.60 177.24L429.70 177.24L429.80 177.24L429.90 177.24L430.00 177.24L430.10 177.25L430.20 177.25L430.30 177.25L430.40 177.25L430.50 177.25L430.60 177.25L430.70 177.25L430.80 177.25L430.90 177.26L430.90 177.90ZM434.80 177.90L434.80 177.29L434.90 177.29L435.00 177.29L435.10 177.29L435.20 177.29L435.30 177.28L435.40 177.28L435.50 177.27L435.60 177.26L435.70 177.25L435.80 177.24L435.90 177.23L436.00 177.21L436.10 177.19L436.20 177.17L436.30 177.14L436.40 177.11L436.50 177.07L436.60 177.02L436.70 176.97L436.80 176.91L436.90 176.83L437.00 176.75L437.10 176.66L437.20 176.55L437.30 176.42L437.40 176.28L437.50 176.13L437.60 175.95L437.70 175.76L437.80 175.54L437.90 175.31L438.00 175.05L438.10 174.77L438.20 174.47L438.30 174.14L438.40 173.79L438.50 173.42L438.60 173.03L438.70 172.62L438.80 172.19L438.90 171.75L439.00 171.29L439.10 170.83L439.20 170.35L439.30 169.88L439.40 169.40L439.50 168.94L439.60 168.48L439.70 168.03L439.80 167.61L439.90 167.21L440.00 166.83L440.10 166.49L440.20 166.19L440.30 165.92L440.40 165.70L440.50 165.53L440.60 165.40L440.70 165.33L440.80 165.30L440.90 165.31L441.00 165.35L441.10 165.42L441.20 165.50L441.30 165.62L441.40 165.75L441.50 165.91L441.60 166.10L441.70 166.30L441.80 166.52L441.90 166.76L442.00 167.02L442.10 167.29L442.20 167.57L442.30 167.87L442.40 168.18L442.50 168.50L442.60 168.82L442.70 169.15L442.80 169.48L442.90 169.82L443.00 170.16L443.10 170.49L443.20 170.83L443.30 171.16L443.40 171.48L443.50 171.81L443.60 172.12L443.70 172.43L443.80 172.73L443.90 173.02L444.00 173.30L444.10 173.56L444.20 173.82L444.30 174.07L444.40 174.31L444.50 174.53L444.60 174.75L444.70 174.95L444.80 175.14L444.90 175.32L445.00 175.49L445.10 175.65L445.20 175.79L445.30 175.93L445.40 176.06L445.50 176.18L445.60 176.28L445.70 176.38L445.80 176.48L445.90 176.56L446.00 176.64L446.10 176.71L446.20 176.77L446.30 176.83L446.40 176.88L446.50 176.93L446.60 176.97L446.70 177.01L446.80 177.05L446.90 177.08L447.00 177.10L447.10 177.13L447.20 177.15L447.30 177.17L447.40 177.19L447.50 177.20L447.60 177.22L447.70 177.22L447.80 177.23L447.90 177.23L448.00 177.23L448.10 177.23L448.20 177.23L448.30 177.23L448.40 177.24L448.50 177.24L448.60 177.24L448.70 177.24L448.80 177.24L448.90 177.24L449.00 177.25L449.10 177.25L449.20 177.25L449.30 177.25L449.40 177.25L449.50 177.25L449.60 177.25L449.70 177.25L449.80 177.26L449.90 177.26L450.00 177.26L450.10 177.26L450.20 177.26L450.30 177.26L450.40 177.26L450.50 177.26L450.60 177.26L450.70 177.26L450.80 177.27L450.90 177.27L451.00 177.27L451.10 177.27L451.20 177.27L451.30 177.27L451.40 177.27L451.50 177.27L451.60 177.27L451.70 177.27L451.80 177.27L451.90 177.27L452.00 177.27L452.10 177.28L452.20 177.28L452.30 177.28L452.40 177.28L452.50 177.28L452.60 177.28L452.70 177.28L452.80 177.28L452.90 177.28L453.00 177.28L453.10 177.28L453.20 177.28L453.30 177.28L453.40 177.28L453.50 177.28L453.60 177.28L453.70 177.28L453.80 177.28L453.90 177.28L454.00 177.28L454.10 177.28L454.20 177.29L454.30 177.29L454.40 177.29L454.50 177.29L454.60 177.29L454.70 177.29L454.80 177.29L454.80 177.90ZM460.40 177.90L460.40 177.30L460.50 177.30L460.60 177.30L460.70 177.30L460.80 177.30L460.90 177.30L461.00 177.30L461.10 177.30L461.20 177.30L461.30 177.30L461.40 177.30L461.50 177.30L461.60 177.30L461.70 177.29L461.80 177.29L461.90 177.29L462.00 177.29L462.10 177.28L462.20 177.28L462.30 177.28L462.40 177.27L462.50 177.26L462.60 177.25L462.70 177.24L462.80 177.23L462.90 177.22L463.00 177.20L463.10 177.18L463.20 177.16L463.30 177.13L463.40 177.10L463.50 177.06L463.60 177.02L463.70 176.98L463.80 176.93L463.90 176.88L464.00 176.82L464.10 176.75L464.20 176.68L464.30 176.60L464.40 176.52L464.50 176.43L464.60 176.34L464.70 176.25L464.80 176.15L464.90 176.05L465.00 175.95L465.10 175.84L465.20 175.74L465.30 175.64L465.40 175.54L465.50 175.45L465.60 175.37L465.70 175.29L465.80 175.21L465.90 175.15L466.00 175.10L466.10 175.06L466.20 175.02L466.30 175.01L466.40 175.00L466.50 175.00L466.60 175.01L466.70 175.03L466.80 175.05L466.90 175.08L467.00 175.11L467.10 175.15L467.20 175.19L467.30 175.24L467.40 175.29L467.50 175.35L467.60 175.41L467.70 175.47L467.80 175.54L467.90 175.60L468.00 175.67L468.10 175.75L468.20 175.82L468.30 175.89L468.40 175.96L468.50 176.04L468.60 176.11L468.70 176.18L468.80 176.25L468.90 176.31L469.00 176.38L469.10 176.44L469.20 176.51L469.30 176.56L469.40 176.62L469.50 176.68L469.60 176.73L469.70 176.77L469.80 176.82L469.90 176.86L470.00 176.90L470.10 176.94L470.20 176.98L470.30 177.01L470.40 177.04L470.50 177.06L470.60 177.09L470.70 177.11L470.80 177.13L470.90 177.15L471.00 177.17L471.10 177.19L471.20 177.20L471.30 177.21L471.40 177.22L471.50 177.23L471.60 177.24L471.70 177.25L471.80 177.26L471.90 177.26L472.00 177.27L472.10 177.27L472.20 177.28L472.30 177.28L472.40 177.28L472.50 177.29L472.60 177.29L472.70 177.29L472.80 177.29L472.90 177.29L473.00 177.29L473.10 177.29L473.20 177.29L473.30 177.29L473.40 177.29L473.50 177.29L473.60 177.29L473.70 177.29L473.80 177.29L473.90 177.29L474.00 177.29L474.10 177.29L474.20 177.29L474.30 177.29L474.40 177.29L474.50 177.29L474.60 177.29L474.70 177.29L474.80 177.29L474.90 177.29L475.00 177.29L475.10 177.29L475.20 177.29L475.30 177.29L475.40 177.29L475.50 177.29L475.60 177.29L475.70 177.29L475.80 177.29L475.90 177.29L476.00 177.29L476.10 177.29L476.20 177.29L476.30 177.30L476.40 177.30L476.50 177.30L476.60 177.30L476.70 177.30L476.80 177.30L476.90 177.30L477.00 177.30L477.10 177.30L477.20 177.30L477.30 177.30L477.40 177.30L477.50 177.30L477.60 177.30L477.70 177.30L477.80 177.30L477.90 177.30L478.00 177.30L478.10 177.30L478.20 177.30L478.30 177.30L478.40 177.30L478.50 177.30L478.60 177.30L478.70 177.30L478.80 177.30L478.90 177.30L479.00 177.30L479.10 177.30L479.20 177.30L479.30 177.30L479.40 177.30L479.50 177.30L479.60 177.30L479.70 177.30L479.80 177.30L479.90 177.30L480.00 177.30L480.10 177.30L480.20 177.30L480.30 177.30L480.40 177.30L480.40 177.90ZM484.30 177.90L484.30 177.30L484.40 177.30L484.50 177.30L484.60 177.30L484.70 177.30L484.80 177.30L484.90 177.30L485.00 177.30L485.10 177.30L485.20 177.30L485.30 177.30L485.40 177.30L485.50 177.30L485.60 177.30L485.70 177.30L485.80 177.29L485.90 177.29L486.00 177.29L486.10 177.29L486.20 177.29L486.30 177.28L486.40 177.28L486.50 177.28L486.60 177.27L486.70 177.26L486.80 177.26L486.90 177.25L487.00 177.24L487.10 177.22L487.20 177.21L487.30 177.19L487.40 177.18L487.50 177.16L487.60 177.13L487.70 177.11L487.80 177.08L487.90 177.05L488.00 177.01L488.10 176.98L488.20 176.94L488.30 176.89L488.40 176.85L488.50 176.80L488.60 176.75L488.70 176.70L488.80 176.65L488.90 176.59L489.00 176.54L489.10 176.49L489.20 176.43L489.30 176.38L489.40 176.34L489.50 176.29L489.60 176.25L489.70 176.21L489.80 176.18L489.90 176.15L490.00 176.13L490.10 176.11L490.20 176.10L490.30 176.10L490.40 176.10L490.50 176.11L490.60 176.11L490.70 176.13L490.80 176.14L490.90 176.16L491.00 176.18L491.10 176.20L491.20 176.22L491.30 176.25L491.40 176.28L491.50 176.31L491.60 176.35L491.70 176.38L491.80 176.42L491.90 176.45L492.00 176.49L492.10 176.53L492.20 176.56L492.30 176.60L492.40 176.64L492.50 176.68L492.60 176.71L492.70 176.75L492.80 176.79L492.90 176.82L493.00 176.85L493.10 176.89L493.20 176.92L493.30 176.95L493.40 176.97L493.50 177.00L493.60 177.03L493.70 177.05L493.80 177.07L493.90 177.09L494.00 177.11L494.10 177.13L494.20 177.15L494.30 177.16L494.40 177.18L494.50 177.19L494.60 177.20L494.70 177.21L494.80 177.22L494.90 177.23L495.00 177.24L495.10 177.25L495.20 177.25L495.30 177.26L495.40 177.26L495.50 177.27L495.60 177.27L495.70 177.28L495.80 177.28L495.90 177.28L496.00 177.29L496.10 177.29L496.20 177.29L496.30 177.29L496.40 177.29L496.50 177.29L496.60 177.29L496.70 177.29L496.80 177.29L496.90 177.29L497.00 177.29L497.10 177.29L497.20 177.29L497.30 177.29L497.40 177.29L497.50 177.29L497.60 177.29L497.70 177.29L497.80 177.29L497.90 177.30L498.00 177.30L498.10 177.30L498.20 177.30L498.30 177.30L498.40 177.30L498.50 177.30L498.60 177.30L498.70 177.30L498.80 177.30L498.90 177.30L499.00 177.30L499.10 177.30L499.20 177.30L499.30 177.30L499.40 177.30L499.50 177.30L499.60 177.30L499.70 177.30L499.80 177.30L499.90 177.30L500.00 177.30L500.10 177.30L500.20 177.30L500.30 177.30L500.40 177.30L500.50 177.30L500.60 177.30L500.70 177.30L500.80 177.30L500.90 177.30L501.00 177.30L501.10 177.30L501.20 177.30L501.30 177.30L501.40 177.30L501.50 177.30L501.60 177.30L501.70 177.30L501.80 177.30L501.90 177.30L502.00 177.30L502.10 177.30L502.20 177.30L502.30 177.30L502.40 177.30L502.50 177.30L502.60 177.30L502.70 177.30L502.80 177.30L502.90 177.30L503.00 177.30L503.10 177.30L503.20 177.30L503.30 177.30L503.40 177.30L503.50 177.30L503.60 177.30L503.70 177.30L503.80 177.30L503.90 177.30L504.00 177.30L504.10 177.30L504.20 177.30L504.30 177.30L504.30 177.90ZM259.90 177.90L259.90 177.30L260.00 177.30L260.10 177.30L260.20 177.30L260.30 177.30L260.40 177.30L260.50 177.30L260.60 177.30L260.70 177.30L260.80 177.30L260.90 177.30L261.00 177.30L261.10 177.30L261.20 177.30L261.30 177.29L261.40 177.29L261.50 177.29L261.60 177.29L261.70 177.29L261.80 177.28L261.90 177.28L262.00 177.27L262.10 177.27L262.20 177.26L262.30 177.25L262.40 177.24L262.50 177.23L262.60 177.21L262.70 177.19L262.80 177.17L262.90 177.15L263.00 177.12L263.10 177.10L263.20 177.06L263.30 177.03L263.40 176.99L263.50 176.94L263.60 176.89L263.70 176.84L263.80 176.78L263.90 176.72L264.00 176.66L264.10 176.59L264.20 176.52L264.30 176.45L264.40 176.37L264.50 176.30L264.60 176.22L264.70 176.15L264.80 176.07L264.90 176.00L265.00 175.93L265.10 175.87L265.20 175.81L265.30 175.76L265.40 175.71L265.50 175.67L265.60 175.64L265.70 175.62L265.80 175.60L265.90 175.60L266.00 175.60L266.10 175.61L266.20 175.61L266.30 175.62L266.40 175.63L266.50 175.65L266.60 175.66L266.70 175.68L266.80 175.70L266.90 175.72L267.00 175.75L267.10 175.78L267.20 175.81L267.30 175.84L267.40 175.87L267.50 175.90L267.60 175.94L267.70 175.97L267.80 176.01L267.90 176.05L268.00 176.09L268.10 176.12L268.20 176.16L268.30 176.20L268.40 176.24L268.50 176.29L268.60 176.33L268.70 176.37L268.80 176.41L268.90 176.44L269.00 176.48L269.10 176.52L269.20 176.56L269.30 176.60L269.40 176.63L269.50 176.67L269.60 176.70L269.70 176.74L269.80 176.77L269.90 176.80L270.00 176.83L270.10 176.86L270.20 176.89L270.30 176.91L270.40 176.94L270.50 176.96L270.60 176.98L270.70 177.01L270.80 177.03L270.90 177.05L271.00 177.07L271.10 177.08L271.20 177.10L271.30 177.12L271.40 177.13L271.50 177.14L271.60 177.16L271.70 177.17L271.80 177.18L271.90 177.19L272.00 177.20L272.10 177.21L272.20 177.22L272.30 177.23L272.40 177.23L272.50 177.24L272.60 177.24L272.70 177.25L272.80 177.26L272.90 177.26L273.00 177.26L273.10 177.27L273.20 177.27L273.30 177.27L273.40 177.28L273.50 177.28L273.60 177.28L273.70 177.28L273.80 177.28L273.90 177.28L274.00 177.28L274.10 177.28L274.20 177.28L274.30 177.28L274.40 177.28L274.50 177.28L274.60 177.28L274.70 177.28L274.80 177.29L274.90 177.29L275.00 177.29L275.10 177.29L275.20 177.29L275.30 177.29L275.40 177.29L275.50 177.29L275.60 177.29L275.70 177.29L275.80 177.29L275.90 177.29L276.00 177.29L276.10 177.29L276.20 177.29L276.30 177.29L276.40 177.29L276.50 177.29L276.60 177.29L276.70 177.29L276.80 177.29L276.90 177.29L277.00 177.29L277.10 177.29L277.20 177.29L277.30 177.29L277.40 177.29L277.50 177.29L277.60 177.29L277.70 177.29L277.80 177.29L277.90 177.29L278.00 177.29L278.10 177.29L278.20 177.29L278.30 177.29L278.40 177.29L278.50 177.29L278.60 177.30L278.70 177.30L278.80 177.30L278.90 177.30L279.00 177.30L279.10 177.30L279.20 177.30L279.30 177.30L279.40 177.30L279.50 177.30L279.60 177.30L279.70 177.30L279.80 177.30L279.90 177.30L279.90 177.90ZM284.20 177.90L284.20 177.30L284.30 177.30L284.40 177.30L284.50 177.30L284.60 177.30L284.70 177.30L284.80 177.30L284.90 177.30L285.00 177.30L285.10 177.30L285.20 177.30L285.30 177.30L285.40 177.30L285.50 177.30L285.60 177.30L285.70 177.29L285.80 177.29L285.90 177.29L286.00 177.29L286.10 177.29L286.20 177.28L286.30 177.28L286.40 177.27L286.50 177.27L286.60 177.26L286.70 177.25L286.80 177.24L286.90 177.23L287.00 177.22L287.10 177.20L287.20 177.19L287.30 177.17L287.40 177.14L287.50 177.12L287.60 177.09L287.70 177.06L287.80 177.03L287.90 176.99L288.00 176.95L288.10 176.91L288.20 176.86L288.30 176.81L288.40 176.76L288.50 176.70L288.60 176.65L288.70 176.59L288.80 176.53L288.90 176.48L289.00 176.42L289.10 176.36L289.20 176.31L289.30 176.26L289.40 176.21L289.50 176.16L289.60 176.12L289.70 176.08L289.80 176.06L289.90 176.03L290.00 176.01L290.10 176.00L290.20 176.00L290.30 176.00L290.40 176.00L290.50 176.01L290.60 176.02L290.70 176.02L290.80 176.04L290.90 176.05L291.00 176.06L291.10 176.08L291.20 176.10L291.30 176.11L291.40 176.14L291.50 176.16L291.60 176.18L291.70 176.21L291.80 176.23L291.90 176.26L292.00 176.28L292.10 176.31L292.20 176.34L292.30 176.37L292.40 176.40L292.50 176.43L292.60 176.46L292.70 176.49L292.80 176.52L292.90 176.55L293.00 176.59L293.10 176.62L293.20 176.65L293.30 176.68L293.40 176.70L293.50 176.73L293.60 176.76L293.70 176.79L293.80 176.82L293.90 176.84L294.00 176.87L294.10 176.89L294.20 176.92L294.30 176.94L294.40 176.96L294.50 176.98L294.60 177.00L294.70 177.02L294.80 177.04L294.90 177.06L295.00 177.08L295.10 177.09L295.20 177.11L295.30 177.12L295.40 177.13L295.50 177.15L295.60 177.16L295.70 177.17L295.80 177.18L295.90 177.19L296.00 177.20L296.10 177.21L296.20 177.22L296.30 177.22L296.40 177.23L296.50 177.24L296.60 177.24L296.70 177.25L296.80 177.25L296.90 177.26L297.00 177.26L297.10 177.27L297.20 177.27L297.30 177.27L297.40 177.28L297.50 177.28L297.60 177.28L297.70 177.28L297.80 177.28L297.90 177.28L298.00 177.28L298.10 177.29L298.20 177.29L298.30 177.29L298.40 177.29L298.50 177.29L298.60 177.29L298.70 177.29L298.80 177.29L298.90 177.29L299.00 177.29L299.10 177.29L299.20 177.29L299.30 177.29L299.40 177.29L299.50 177.29L299.60 177.29L299.70 177.29L299.80 177.29L299.90 177.29L300.00 177.29L300.10 177.29L300.20 177.29L300.30 177.29L300.40 177.29L300.50 177.29L300.60 177.29L300.70 177.29L300.80 177.29L300.90 177.29L301.00 177.29L301.10 177.29L301.20 177.29L301.30 177.29L301.40 177.29L301.50 177.29L301.60 177.29L301.70 177.29L301.80 177.29L301.90 177.29L302.00 177.30L302.10 177.30L302.20 177.30L302.30 177.30L302.40 177.30L302.50 177.30L302.60 177.30L302.70 177.30L302.80 177.30L302.90 177.30L303.00 177.30L303.10 177.30L303.20 177.30L303.30 177.30L303.40 177.30L303.50 177.30L303.60 177.30L303.70 177.30L303.80 177.30L303.90 177.30L304.00 177.30L304.10 177.30L304.20 177.30L304.20 177.90Z" fill="#0f2a66"/>
<path d="M419.20 177.90L419.20 177.15L419.30 177.12L419.40 177.07L419.50 177.01L419.60 176.94L419.70 176.86L419.80 176.76L419.90 176.63L420.00 176.48L420.10 176.31L420.20 176.09L420.30 175.84L420.40 175.54L420.50 175.19L420.60 174.78L420.70 174.30L420.80 173.74L420.90 173.09L421.00 172.35L421.10 171.50L421.20 170.52L421.30 169.41L421.40 168.16L421.50 166.75L421.60 165.16L421.70 163.39L421.80 161.42L421.90 159.25L422.00 156.85L422.10 154.23L422.20 151.37L422.30 148.26L422.40 144.91L422.50 141.31L422.60 137.46L422.70 133.36L422.80 129.04L422.90 124.49L423.00 119.73L423.10 114.78L423.20 109.67L423.30 104.42L423.40 99.06L423.50 93.63L423.60 88.17L423.70 82.71L423.80 77.30L423.90 71.99L424.00 66.82L424.10 61.84L424.20 57.10L424.30 52.64L424.40 48.51L424.50 44.75L424.60 41.41L424.70 38.51L424.80 36.10L424.90 34.19L425.00 32.81L425.10 31.98L425.20 31.70L425.30 31.78L425.40 32.04L425.50 32.45L425.60 33.04L425.70 33.78L425.80 34.69L425.90 35.76L426.00 36.97L426.10 38.34L426.20 39.86L426.30 41.51L426.40 43.30L426.50 45.22L426.60 47.26L426.70 49.41L426.80 51.68L426.90 54.05L427.00 56.51L427.10 59.06L427.20 61.69L427.30 64.39L427.40 67.15L427.50 69.97L427.60 72.84L427.70 75.75L427.80 78.69L427.90 81.66L428.00 84.64L428.10 87.64L428.20 90.64L428.30 93.63L428.40 96.62L428.50 99.58L428.60 102.53L428.70 105.44L428.80 108.33L428.90 111.17L429.00 113.97L429.10 116.72L429.20 119.41L429.30 122.06L429.40 124.64L429.50 127.16L429.60 129.61L429.70 131.99L429.80 134.31L429.90 136.55L430.00 138.72L430.10 140.82L430.20 142.85L430.30 144.80L430.40 146.67L430.50 148.47L430.60 150.19L430.70 151.84L430.80 153.42L430.90 154.93L431.00 156.36L431.10 157.73L431.20 159.03L431.30 160.26L431.40 161.42L431.50 162.53L431.60 163.57L431.70 164.55L431.80 165.48L431.90 166.35L432.00 167.17L432.10 167.94L432.20 168.66L432.30 169.34L432.40 169.97L432.50 170.56L432.60 171.10L432.70 171.61L432.80 172.09L432.90 172.53L433.00 172.94L433.10 173.31L433.20 173.66L433.30 173.99L433.40 174.28L433.50 174.56L433.60 174.81L433.70 175.04L433.80 175.25L433.90 175.45L434.00 175.54L434.10 175.59L434.20 175.63L434.30 175.67L434.40 175.70L434.50 175.74L434.60 175.78L434.70 175.81L434.80 175.85L434.90 175.88L435.00 175.92L435.10 175.95L435.20 175.98L435.30 176.01L435.40 176.04L435.50 176.07L435.60 176.10L435.70 176.13L435.80 176.16L435.90 176.19L436.00 176.21L436.10 176.24L436.20 176.26L436.30 176.29L436.40 176.31L436.50 176.33L436.60 176.36L436.70 176.38L436.80 176.40L436.90 176.42L437.00 176.44L437.10 176.46L437.20 176.48L437.30 176.50L437.40 176.52L437.50 176.54L437.60 176.56L437.70 176.58L437.80 176.59L437.90 176.61L438.00 176.63L438.10 176.64L438.20 176.66L438.30 176.67L438.40 176.69L438.50 176.70L438.60 176.72L438.70 176.73L438.80 176.74L438.90 176.76L439.00 176.77L439.10 176.78L439.20 176.79L439.20 177.90ZM443.90 177.90L443.90 177.25L444.00 177.23L444.10 177.21L444.20 177.19L444.30 177.17L444.40 177.14L444.50 177.10L444.60 177.05L444.70 176.99L444.80 176.93L444.90 176.85L445.00 176.75L445.10 176.64L445.20 176.51L445.30 176.36L445.40 176.18L445.50 175.97L445.60 175.73L445.70 175.45L445.80 175.13L445.90 174.77L446.00 174.35L446.10 173.88L446.20 173.36L446.30 172.76L446.40 172.10L446.50 171.37L446.60 170.56L446.70 169.66L446.80 168.68L446.90 167.61L447.00 166.45L447.10 165.20L447.20 163.85L447.30 162.41L447.40 160.88L447.50 159.27L447.60 157.57L447.70 155.79L447.80 153.94L447.90 152.03L448.00 150.07L448.10 148.07L448.20 146.04L448.30 144.00L448.40 141.96L448.50 139.94L448.60 137.95L448.70 136.02L448.80 134.16L448.90 132.39L449.00 130.72L449.10 129.18L449.20 127.78L449.30 126.53L449.40 125.45L449.50 124.54L449.60 123.83L449.70 123.32L449.80 123.00L449.90 122.90L450.00 122.94L450.10 123.04L450.20 123.22L450.30 123.47L450.40 123.79L450.50 124.17L450.60 124.63L450.70 125.15L450.80 125.73L450.90 126.37L451.00 127.07L451.10 127.82L451.20 128.63L451.30 129.49L451.40 130.39L451.50 131.34L451.60 132.33L451.70 133.36L451.80 134.41L451.90 135.50L452.00 136.62L452.10 137.75L452.20 138.91L452.30 140.08L452.40 141.26L452.50 142.45L452.60 143.65L452.70 144.84L452.80 146.04L452.90 147.23L453.00 148.42L453.10 149.59L453.20 150.75L453.30 151.90L453.40 153.03L453.50 154.14L453.60 155.22L453.70 156.29L453.80 157.33L453.90 158.34L454.00 159.32L454.10 160.28L454.20 161.21L454.30 162.10L454.40 162.97L454.50 163.80L454.60 164.61L454.70 165.38L454.80 166.11L454.90 166.82L455.00 167.49L455.10 168.14L455.20 168.75L455.30 169.33L455.40 169.88L455.50 170.41L455.60 170.90L455.70 171.37L455.80 171.81L455.90 172.22L456.00 172.61L456.10 172.98L456.20 173.32L456.30 173.64L456.40 173.94L456.50 174.21L456.60 174.47L456.70 174.71L456.80 174.94L456.90 175.14L457.00 175.33L457.10 175.51L457.20 175.67L457.30 175.82L457.40 175.96L457.50 176.09L457.60 176.21L457.70 176.31L457.80 176.41L457.90 176.50L458.00 176.58L458.10 176.65L458.20 176.70L458.30 176.71L458.40 176.72L458.50 176.74L458.60 176.75L458.70 176.76L458.80 176.78L458.90 176.79L459.00 176.80L459.10 176.81L459.20 176.82L459.30 176.84L459.40 176.85L459.50 176.86L459.60 176.87L459.70 176.88L459.80 176.89L459.90 176.90L460.00 176.91L460.10 176.92L460.20 176.93L460.30 176.93L460.40 176.94L460.50 176.95L460.60 176.96L460.70 176.97L460.80 176.98L460.90 176.98L461.00 176.99L461.10 177.00L461.20 177.00L461.30 177.01L461.40 177.02L461.50 177.03L461.60 177.03L461.70 177.04L461.80 177.04L461.90 177.05L462.00 177.06L462.10 177.06L462.20 177.07L462.30 177.07L462.40 177.08L462.50 177.08L462.60 177.09L462.70 177.09L462.80 177.10L462.90 177.10L463.00 177.11L463.10 177.11L463.20 177.12L463.30 177.12L463.40 177.13L463.50 177.13L463.60 177.13L463.70 177.14L463.80 177.14L463.90 177.15L463.90 177.90ZM468.70 177.90L468.70 177.29L468.80 177.29L468.90 177.29L469.00 177.29L469.10 177.28L469.20 177.28L469.30 177.27L469.40 177.27L469.50 177.26L469.60 177.25L469.70 177.23L469.80 177.22L469.90 177.20L470.00 177.17L470.10 177.15L470.20 177.11L470.30 177.07L470.40 177.03L470.50 176.97L470.60 176.91L470.70 176.84L470.80 176.75L470.90 176.65L471.00 176.54L471.10 176.41L471.20 176.27L471.30 176.11L471.40 175.92L471.50 175.72L471.60 175.49L471.70 175.24L471.80 174.96L471.90 174.66L472.00 174.33L472.10 173.97L472.20 173.59L472.30 173.18L472.40 172.74L472.50 172.29L472.60 171.80L472.70 171.30L472.80 170.78L472.90 170.24L473.00 169.69L473.10 169.14L473.20 168.58L473.30 168.02L473.40 167.47L473.50 166.93L473.60 166.41L473.70 165.91L473.80 165.44L473.90 165.00L474.00 164.60L474.10 164.24L474.20 163.93L474.30 163.67L474.40 163.47L474.50 163.32L474.60 163.23L474.70 163.20L474.80 163.21L474.90 163.24L475.00 163.30L475.10 163.38L475.20 163.47L475.30 163.59L475.40 163.73L475.50 163.89L475.60 164.07L475.70 164.27L475.80 164.48L475.90 164.71L476.00 164.96L476.10 165.22L476.20 165.49L476.30 165.77L476.40 166.07L476.50 166.37L476.60 166.69L476.70 167.01L476.80 167.34L476.90 167.67L477.00 168.00L477.10 168.34L477.20 168.68L477.30 169.02L477.40 169.36L477.50 169.69L477.60 170.03L477.70 170.36L477.80 170.68L477.90 171.00L478.00 171.32L478.10 171.63L478.20 171.93L478.30 172.22L478.40 172.50L478.50 172.78L478.60 173.04L478.70 173.30L478.80 173.55L478.90 173.78L479.00 174.01L479.10 174.23L479.20 174.44L479.30 174.64L479.40 174.82L479.50 175.00L479.60 175.17L479.70 175.33L479.80 175.48L479.90 175.62L480.00 175.76L480.10 175.88L480.20 176.00L480.30 176.11L480.40 176.21L480.50 176.30L480.60 176.39L480.70 176.47L480.80 176.55L480.90 176.62L481.00 176.68L481.10 176.74L481.20 176.79L481.30 176.84L481.40 176.89L481.50 176.93L481.60 176.97L481.70 177.00L481.80 177.03L481.90 177.06L482.00 177.09L482.10 177.11L482.20 177.13L482.30 177.15L482.40 177.15L482.50 177.16L482.60 177.16L482.70 177.17L482.80 177.17L482.90 177.17L483.00 177.18L483.10 177.18L483.20 177.18L483.30 177.18L483.40 177.19L483.50 177.19L483.60 177.19L483.70 177.20L483.80 177.20L483.90 177.20L484.00 177.20L484.10 177.21L484.20 177.21L484.30 177.21L484.40 177.21L484.50 177.21L484.60 177.22L484.70 177.22L484.80 177.22L484.90 177.22L485.00 177.22L485.10 177.23L485.20 177.23L485.30 177.23L485.40 177.23L485.50 177.23L485.60 177.24L485.70 177.24L485.80 177.24L485.90 177.24L486.00 177.24L486.10 177.24L486.20 177.24L486.30 177.25L486.40 177.25L486.50 177.25L486.60 177.25L486.70 177.25L486.80 177.25L486.90 177.25L487.00 177.25L487.10 177.26L487.20 177.26L487.30 177.26L487.40 177.26L487.50 177.26L487.60 177.26L487.70 177.26L487.80 177.26L487.90 177.26L488.00 177.26L488.10 177.27L488.20 177.27L488.30 177.27L488.40 177.27L488.50 177.27L488.60 177.27L488.70 177.27L488.70 177.90ZM492.90 177.90L492.90 177.30L493.00 177.30L493.10 177.30L493.20 177.30L493.30 177.30L493.40 177.30L493.50 177.30L493.60 177.30L493.70 177.30L493.80 177.30L493.90 177.29L494.00 177.29L494.10 177.29L494.20 177.29L494.30 177.29L494.40 177.28L494.50 177.28L494.60 177.27L494.70 177.27L494.80 177.26L494.90 177.25L495.00 177.24L495.10 177.23L495.20 177.21L495.30 177.20L495.40 177.18L495.50 177.16L495.60 177.13L495.70 177.10L495.80 177.07L495.90 177.03L496.00 176.99L496.10 176.95L496.20 176.90L496.30 176.84L496.40 176.79L496.50 176.72L496.60 176.65L496.70 176.58L496.80 176.50L496.90 176.42L497.00 176.33L497.10 176.24L497.20 176.15L497.30 176.05L497.40 175.96L497.50 175.86L497.60 175.77L497.70 175.67L497.80 175.58L497.90 175.49L498.00 175.41L498.10 175.33L498.20 175.25L498.30 175.19L498.40 175.13L498.50 175.09L498.60 175.05L498.70 175.02L498.80 175.01L498.90 175.00L499.00 175.00L499.10 175.01L499.20 175.02L499.30 175.03L499.40 175.05L499.50 175.07L499.60 175.10L499.70 175.13L499.80 175.16L499.90 175.19L500.00 175.23L500.10 175.27L500.20 175.32L500.30 175.37L500.40 175.41L500.50 175.47L500.60 175.52L500.70 175.57L500.80 175.63L500.90 175.68L501.00 175.74L501.10 175.80L501.20 175.86L501.30 175.92L501.40 175.98L501.50 176.03L501.60 176.09L501.70 176.15L501.80 176.21L501.90 176.26L502.00 176.32L502.10 176.37L502.20 176.42L502.30 176.47L502.40 176.52L502.50 176.57L502.60 176.61L502.70 176.66L502.80 176.70L502.90 176.74L503.00 176.78L503.10 176.82L503.20 176.85L503.30 176.88L503.40 176.92L503.50 176.94L503.60 176.97L503.70 177.00L503.80 177.02L503.90 177.05L504.00 177.07L504.10 177.09L504.20 177.11L504.30 177.12L504.40 177.14L504.50 177.16L504.60 177.17L504.70 177.18L504.80 177.19L504.90 177.20L505.00 177.21L505.10 177.22L505.20 177.23L505.30 177.24L505.40 177.24L505.50 177.25L505.60 177.26L505.70 177.26L505.80 177.27L505.90 177.27L506.00 177.27L506.10 177.28L506.20 177.28L506.30 177.28L506.40 177.28L506.50 177.28L506.60 177.28L506.70 177.28L506.80 177.28L506.90 177.28L507.00 177.28L507.10 177.28L507.20 177.28L507.30 177.28L507.40 177.28L507.50 177.28L507.60 177.28L507.70 177.28L507.80 177.28L507.90 177.29L508.00 177.29L508.10 177.29L508.20 177.29L508.30 177.29L508.40 177.29L508.50 177.29L508.60 177.29L508.70 177.29L508.80 177.29L508.90 177.29L509.00 177.29L509.10 177.29L509.20 177.29L509.30 177.29L509.40 177.29L509.50 177.29L509.60 177.29L509.70 177.29L509.80 177.29L509.90 177.29L510.00 177.29L510.10 177.29L510.20 177.29L510.30 177.29L510.40 177.29L510.50 177.29L510.60 177.29L510.70 177.29L510.80 177.29L510.90 177.29L511.00 177.29L511.10 177.29L511.20 177.29L511.30 177.29L511.40 177.29L511.50 177.29L511.60 177.29L511.70 177.29L511.80 177.29L511.90 177.29L512.00 177.30L512.10 177.30L512.20 177.30L512.30 177.30L512.40 177.30L512.50 177.30L512.60 177.30L512.70 177.30L512.80 177.30L512.90 177.30L512.90 177.90Z" fill="#cc0a0a"/>
<polyline points="250.5,177.49 253.0,177.58 255.5,177.27 258.0,177.16 260.5,177.13 263.0,177.57 265.5,177.13 268.0,177.35 270.5,177.09 273.0,177.31 275.5,177.57 278.0,177.08 280.5,177.49 283.0,177.31 285.5,177.53 288.0,177.42 290.5,177.14 293.0,177.54 295.5,177.29 298.0,177.01 300.5,177.00 303.0,177.30 305.5,177.27 308.0,177.18 310.5,177.08 313.0,177.21 315.5,177.19 318.0,177.50 320.5,177.00 323.0,177.45 325.5,177.50 328.0,177.07 330.5,177.56 333.0,177.43 335.5,177.54 338.0,177.17 340.5,177.22 343.0,177.24 345.5,177.60 348.0,177.35 350.5,177.22 353.0,177.26 355.5,177.17 358.0,177.03 360.5,177.06 363.0,177.50 365.5,177.17 368.0,177.56 370.5,177.15 373.0,177.16 375.5,177.31 378.0,177.11 380.5,177.22 383.0,177.57 385.5,177.53 388.0,177.49 390.5,177.38 393.0,177.55 395.5,177.56 398.0,177.33 400.5,177.43 403.0,177.03 405.5,177.44 408.0,177.27 410.5,177.45 413.0,177.39 415.5,177.17 418.0,177.03 420.5,177.56 423.0,177.08 425.5,177.28 428.0,177.21 430.5,177.18 433.0,177.44 435.5,177.59 438.0,177.16 440.5,177.39 443.0,177.18 445.5,177.33 448.0,177.24 450.5,177.10 453.0,177.10 455.5,177.12 458.0,177.54 460.5,177.30 463.0,177.13 465.5,177.54 468.0,177.60 470.5,177.27 473.0,177.08 475.5,177.12 478.0,177.05 480.5,177.21 483.0,177.05 485.5,177.14 488.0,177.16 490.5,177.34 493.0,177.53 495.5,177.45 498.0,177.25 500.5,177.25 503.0,177.31 505.5,177.23 508.0,177.20 510.5,177.04 513.0,177.17 515.5,177.58 518.0,177.08 520.5,177.30 523.0,177.38 525.5,177.52 528.0,177.13 530.5,177.16 533.0,177.15 535.5,177.24 538.0,177.27 540.5,177.57 543.0,177.51 545.5,177.52 548.0,177.01 550.5,177.02 553.0,177.43 555.5,177.54 558.0,177.28 560.5,177.35 563.0,177.00 565.5,177.23 568.0,177.56 570.5,177.50 573.0,177.51 575.5,177.58 578.0,177.15 580.5,177.07 583.0,177.09 585.5,177.31 588.0,177.41 590.5,177.56 593.0,177.43 595.5,177.39 598.0,177.46 600.5,177.27 603.0,177.33 605.5,177.02 608.0,177.47 610.5,177.14 613.0,177.55 615.5,177.39 618.0,177.18 620,177.30" fill="none" stroke="#0f2a66" stroke-width="1.5"/>
<path d="M250.5 180 V8.5 H620 V180" fill="none" stroke="#555" stroke-width="1"/>
<line x1="250.5" y1="179.7" x2="620" y2="179.7" stroke="#999" stroke-width="1.4"/>
<line x1="250.5" y1="180" x2="250.5" y2="182.4" stroke="#555" stroke-width="1"/>
<line x1="275.2" y1="180" x2="275.2" y2="182.4" stroke="#555" stroke-width="1"/>
<line x1="299.9" y1="180" x2="299.9" y2="182.4" stroke="#555" stroke-width="1"/>
<line x1="324.6" y1="180" x2="324.6" y2="182.4" stroke="#555" stroke-width="1"/>
<line x1="349.3" y1="180" x2="349.3" y2="182.4" stroke="#555" stroke-width="1"/>
<line x1="374.0" y1="180" x2="374.0" y2="182.4" stroke="#555" stroke-width="1"/>
<line x1="398.7" y1="180" x2="398.7" y2="182.4" stroke="#555" stroke-width="1"/>
<line x1="423.4" y1="180" x2="423.4" y2="182.4" stroke="#555" stroke-width="1"/>
<line x1="448.1" y1="180" x2="448.1" y2="182.4" stroke="#555" stroke-width="1"/>
<line x1="472.8" y1="180" x2="472.8" y2="182.4" stroke="#555" stroke-width="1"/>
<line x1="497.5" y1="180" x2="497.5" y2="182.4" stroke="#555" stroke-width="1"/>
<line x1="522.2" y1="180" x2="522.2" y2="182.4" stroke="#555" stroke-width="1"/>
<line x1="546.9" y1="180" x2="546.9" y2="182.4" stroke="#555" stroke-width="1"/>
<line x1="571.6" y1="180" x2="571.6" y2="182.4" stroke="#555" stroke-width="1"/>
<line x1="596.3" y1="180" x2="596.3" y2="182.4" stroke="#555" stroke-width="1"/>
<rect x="237.5" y="184.5" width="26" height="12" fill="#fff"/>
<text x="250.50" y="194.40" font-size="11" fill="#333" text-anchor="middle" font-weight="normal" font-style="normal" >1300</text>
<rect x="286.9" y="184.5" width="26" height="12" fill="#fff"/>
<text x="299.90" y="194.40" font-size="11" fill="#333" text-anchor="middle" font-weight="normal" font-style="normal" >1302</text>
<rect x="336.3" y="184.5" width="26" height="12" fill="#fff"/>
<text x="349.30" y="194.40" font-size="11" fill="#333" text-anchor="middle" font-weight="normal" font-style="normal" >1304</text>
<rect x="385.7" y="184.5" width="26" height="12" fill="#fff"/>
<text x="398.70" y="194.40" font-size="11" fill="#333" text-anchor="middle" font-weight="normal" font-style="normal" >1306</text>
<rect x="435.1" y="184.5" width="26" height="12" fill="#fff"/>
<text x="448.10" y="194.40" font-size="11" fill="#333" text-anchor="middle" font-weight="normal" font-style="normal" >1308</text>
<rect x="484.5" y="184.5" width="26" height="12" fill="#fff"/>
<text x="497.50" y="194.40" font-size="11" fill="#333" text-anchor="middle" font-weight="normal" font-style="normal" >1310</text>
<rect x="533.9" y="184.5" width="26" height="12" fill="#fff"/>
<text x="546.90" y="194.40" font-size="11" fill="#333" text-anchor="middle" font-weight="normal" font-style="normal" >1312</text>
<rect x="583.3" y="184.5" width="26" height="12" fill="#fff"/>
<text x="596.30" y="194.40" font-size="11" fill="#333" text-anchor="middle" font-weight="normal" font-style="normal" >1314</text>
<rect x="607" y="187" width="22" height="12" fill="#fff"/>
<text x="609.20" y="197.60" font-size="11.5" fill="#222" text-anchor="start" font-weight="normal" font-style="italic" >m/z</text>
<text x="258.20" y="27.10" font-size="17" fill="#111" text-anchor="start" font-weight="bold" font-style="normal" >(b)</text>
<text x="401.00" y="28.00" font-size="11.6" fill="#222" text-anchor="start" font-weight="normal" font-style="normal" textLength="45.9" lengthAdjust="spacingAndGlyphs">1307.056</text>
<text x="367.00" y="121.80" font-size="11.6" fill="#222" text-anchor="start" font-weight="normal" font-style="normal" textLength="46" lengthAdjust="spacingAndGlyphs">1305.710</text>
<rect x="1.5" y="1.8" width="705.8" height="630.5" fill="none" stroke="#000" stroke-width="1.5"/>
<path d="M5.4 399.1 H427.6 V576.8 H275 V629 H5.4 Z" fill="none" stroke="#3a3a3a" stroke-width="1.7"/>
<path d="M431.4 399.1 H703.9 V629 H279 V498.9 H431.4 Z" fill="none" stroke="#d82a04" stroke-width="2"/>
<rect x="53.7" y="406.5" width="208.9" height="183.5" fill="url(#gc)"/>
<line x1="53.7" y1="426.89" x2="262.6" y2="426.89" stroke="#000" stroke-opacity="0.13" stroke-width="1.2"/>
<line x1="53.7" y1="447.28" x2="262.6" y2="447.28" stroke="#000" stroke-opacity="0.13" stroke-width="1.2"/>
<line x1="53.7" y1="467.67" x2="262.6" y2="467.67" stroke="#000" stroke-opacity="0.13" stroke-width="1.2"/>
<line x1="53.7" y1="488.06" x2="262.6" y2="488.06" stroke="#000" stroke-opacity="0.13" stroke-width="1.2"/>
<line x1="53.7" y1="508.44" x2="262.6" y2="508.44" stroke="#000" stroke-opacity="0.13" stroke-width="1.2"/>
<line x1="53.7" y1="528.83" x2="262.6" y2="528.83" stroke="#000" stroke-opacity="0.13" stroke-width="1.2"/>
<line x1="53.7" y1="549.22" x2="262.6" y2="549.22" stroke="#000" stroke-opacity="0.13" stroke-width="1.2"/>
<line x1="53.7" y1="569.61" x2="262.6" y2="569.61" stroke="#000" stroke-opacity="0.13" stroke-width="1.2"/>
<line x1="53.7" y1="559.42" x2="262.6" y2="559.42" stroke="#000" stroke-opacity="0.2" stroke-width="1.2"/>
<line x1="100.80" y1="406.5" x2="100.80" y2="590.0" stroke="#fff" stroke-opacity="0.3" stroke-width="1.3"/>
<line x1="147.20" y1="406.5" x2="147.20" y2="590.0" stroke="#fff" stroke-opacity="0.3" stroke-width="1.3"/>
<line x1="193.60" y1="406.5" x2="193.60" y2="590.0" stroke="#fff" stroke-opacity="0.3" stroke-width="1.3"/>
<line x1="240.00" y1="406.5" x2="240.00" y2="590.0" stroke="#fff" stroke-opacity="0.3" stroke-width="1.3"/>
<polygon points="53.7,508.7 246.5,406.5 262.6,406.5 262.6,500.2 93.1,590 53.7,590" fill="#ffffff" clip-path="url(#cc)"/>
<g clip-path="url(#bc)">
<line x1="53.7" y1="426.89" x2="262.6" y2="426.89" stroke="#dcd2d2" stroke-width="1"/>
<line x1="53.7" y1="447.28" x2="262.6" y2="447.28" stroke="#dcd2d2" stroke-width="1"/>
<line x1="53.7" y1="467.67" x2="262.6" y2="467.67" stroke="#dcd2d2" stroke-width="1"/>
<line x1="53.7" y1="488.06" x2="262.6" y2="488.06" stroke="#dcd2d2" stroke-width="1"/>
<line x1="53.7" y1="508.44" x2="262.6" y2="508.44" stroke="#dcd2d2" stroke-width="1"/>
<line x1="53.7" y1="528.83" x2="262.6" y2="528.83" stroke="#dcd2d2" stroke-width="1"/>
<line x1="53.7" y1="549.22" x2="262.6" y2="549.22" stroke="#dcd2d2" stroke-width="1"/>
<line x1="53.7" y1="569.61" x2="262.6" y2="569.61" stroke="#dcd2d2" stroke-width="1"/>
<line x1="100.80" y1="406.5" x2="100.80" y2="590.0" stroke="#d6d6d6" stroke-width="1"/>
<line x1="147.20" y1="406.5" x2="147.20" y2="590.0" stroke="#d6d6d6" stroke-width="1"/>
<line x1="193.60" y1="406.5" x2="193.60" y2="590.0" stroke="#d6d6d6" stroke-width="1"/>
<line x1="240.00" y1="406.5" x2="240.00" y2="590.0" stroke="#d6d6d6" stroke-width="1"/>
</g>
<line x1="53.7" y1="406.8" x2="262.6" y2="406.8" stroke="#b0b0b0" stroke-opacity="0.6" stroke-width="1"/>
<line x1="53.7" y1="406.5" x2="53.7" y2="590.0" stroke="#9a9a9a" stroke-width="1"/>
<line x1="53.7" y1="590.0" x2="262.6" y2="590.0" stroke="#b4b4b4" stroke-width="1"/>
<rect x="485" y="407.7" width="208.2" height="181.8" fill="url(#gd)"/>
<line x1="485" y1="427.90" x2="693.2" y2="427.90" stroke="#000" stroke-opacity="0.13" stroke-width="1.2"/>
<line x1="485" y1="448.10" x2="693.2" y2="448.10" stroke="#000" stroke-opacity="0.13" stroke-width="1.2"/>
<line x1="485" y1="468.30" x2="693.2" y2="468.30" stroke="#000" stroke-opacity="0.13" stroke-width="1.2"/>
<line x1="485" y1="488.50" x2="693.2" y2="488.50" stroke="#000" stroke-opacity="0.13" stroke-width="1.2"/>
<line x1="485" y1="508.70" x2="693.2" y2="508.70" stroke="#000" stroke-opacity="0.13" stroke-width="1.2"/>
<line x1="485" y1="528.90" x2="693.2" y2="528.90" stroke="#000" stroke-opacity="0.13" stroke-width="1.2"/>
<line x1="485" y1="549.10" x2="693.2" y2="549.10" stroke="#000" stroke-opacity="0.13" stroke-width="1.2"/>
<line x1="485" y1="569.30" x2="693.2" y2="569.30" stroke="#000" stroke-opacity="0.13" stroke-width="1.2"/>
<line x1="485" y1="559.20" x2="693.2" y2="559.20" stroke="#000" stroke-opacity="0.2" stroke-width="1.2"/>
<line x1="531.40" y1="407.7" x2="531.40" y2="589.5" stroke="#fff" stroke-opacity="0.3" stroke-width="1.3"/>
<line x1="577.60" y1="407.7" x2="577.60" y2="589.5" stroke="#fff" stroke-opacity="0.3" stroke-width="1.3"/>
<line x1="623.80" y1="407.7" x2="623.80" y2="589.5" stroke="#fff" stroke-opacity="0.3" stroke-width="1.3"/>
<line x1="670.00" y1="407.7" x2="670.00" y2="589.5" stroke="#fff" stroke-opacity="0.3" stroke-width="1.3"/>
<polygon points="485,508.8 677,407.7 693.2,407.7 693.2,500.6 522,589.5 485,589.5" fill="#ffffff" clip-path="url(#cd)"/>
<g clip-path="url(#bd)">
<line x1="485" y1="427.90" x2="693.2" y2="427.90" stroke="#dcd2d2" stroke-width="1"/>
<line x1="485" y1="448.10" x2="693.2" y2="448.10" stroke="#dcd2d2" stroke-width="1"/>
<line x1="485" y1="468.30" x2="693.2" y2="468.30" stroke="#dcd2d2" stroke-width="1"/>
<line x1="485" y1="488.50" x2="693.2" y2="488.50" stroke="#dcd2d2" stroke-width="1"/>
<line x1="485" y1="508.70" x2="693.2" y2="508.70" stroke="#dcd2d2" stroke-width="1"/>
<line x1="485" y1="528.90" x2="693.2" y2="528.90" stroke="#dcd2d2" stroke-width="1"/>
<line x1="485" y1="549.10" x2="693.2" y2="549.10" stroke="#dcd2d2" stroke-width="1"/>
<line x1="485" y1="569.30" x2="693.2" y2="569.30" stroke="#dcd2d2" stroke-width="1"/>
<line x1="531.40" y1="407.7" x2="531.40" y2="589.5" stroke="#d6d6d6" stroke-width="1"/>
<line x1="577.60" y1="407.7" x2="577.60" y2="589.5" stroke="#d6d6d6" stroke-width="1"/>
<line x1="623.80" y1="407.7" x2="623.80" y2="589.5" stroke="#d6d6d6" stroke-width="1"/>
<line x1="670.00" y1="407.7" x2="670.00" y2="589.5" stroke="#d6d6d6" stroke-width="1"/>
</g>
<line x1="485" y1="408.0" x2="693.2" y2="408.0" stroke="#b0b0b0" stroke-opacity="0.6" stroke-width="1"/>
<line x1="485" y1="407.7" x2="485" y2="589.5" stroke="#9a9a9a" stroke-width="1"/>
<line x1="485" y1="589.5" x2="693.2" y2="589.5" stroke="#b4b4b4" stroke-width="1"/>
<text x="44.40" y="412.20" font-size="12" fill="#333" text-anchor="end" font-weight="normal" font-style="normal" >0.5</text>
<text x="476.00" y="412.10" font-size="12" fill="#333" text-anchor="end" font-weight="normal" font-style="normal" >0.5</text>
<text x="44.40" y="432.45" font-size="12" fill="#333" text-anchor="end" font-weight="normal" font-style="normal" >0.3</text>
<text x="476.00" y="432.35" font-size="12" fill="#333" text-anchor="end" font-weight="normal" font-style="normal" >0.3</text>
<text x="44.40" y="452.70" font-size="12" fill="#333" text-anchor="end" font-weight="normal" font-style="normal" >0.1</text>
<text x="476.00" y="452.60" font-size="12" fill="#333" text-anchor="end" font-weight="normal" font-style="normal" >0.1</text>
<text x="44.40" y="472.95" font-size="12" fill="#333" text-anchor="end" font-weight="normal" font-style="normal" >0.9</text>
<text x="476.00" y="472.85" font-size="12" fill="#333" text-anchor="end" font-weight="normal" font-style="normal" >0.9</text>
<text x="44.40" y="493.20" font-size="12" fill="#333" text-anchor="end" font-weight="normal" font-style="normal" >0.7</text>
<text x="476.00" y="493.10" font-size="12" fill="#333" text-anchor="end" font-weight="normal" font-style="normal" >0.7</text>
<text x="44.40" y="513.45" font-size="12" fill="#333" text-anchor="end" font-weight="normal" font-style="normal" >0.5</text>
<text x="476.00" y="513.35" font-size="12" fill="#333" text-anchor="end" font-weight="normal" font-style="normal" >0.5</text>
<text x="44.40" y="533.70" font-size="12" fill="#333" text-anchor="end" font-weight="normal" font-style="normal" >0.3</text>
<text x="476.00" y="533.60" font-size="12" fill="#333" text-anchor="end" font-weight="normal" font-style="normal" >0.3</text>
<text x="44.40" y="553.95" font-size="12" fill="#333" text-anchor="end" font-weight="normal" font-style="normal" >0.1</text>
<text x="476.00" y="553.85" font-size="12" fill="#333" text-anchor="end" font-weight="normal" font-style="normal" >0.1</text>
<text x="44.40" y="574.20" font-size="12" fill="#333" text-anchor="end" font-weight="normal" font-style="normal" >0.9</text>
<text x="476.00" y="574.10" font-size="12" fill="#333" text-anchor="end" font-weight="normal" font-style="normal" >0.9</text>
<text x="44.40" y="594.45" font-size="12" fill="#333" text-anchor="end" font-weight="normal" font-style="normal" >0.7</text>
<text x="476.00" y="594.35" font-size="12" fill="#333" text-anchor="end" font-weight="normal" font-style="normal" >0.7</text>
<text x="54.40" y="610.60" font-size="12" fill="#333" text-anchor="middle" font-weight="normal" font-style="normal" >0</text>
<text x="485.20" y="606.50" font-size="12" fill="#333" text-anchor="middle" font-weight="normal" font-style="normal" >0</text>
<text x="100.80" y="610.60" font-size="12" fill="#333" text-anchor="middle" font-weight="normal" font-style="normal" >500</text>
<text x="531.40" y="606.50" font-size="12" fill="#333" text-anchor="middle" font-weight="normal" font-style="normal" >500</text>
<text x="147.20" y="610.60" font-size="12" fill="#333" text-anchor="middle" font-weight="normal" font-style="normal" >1000</text>
<text x="577.60" y="606.50" font-size="12" fill="#333" text-anchor="middle" font-weight="normal" font-style="normal" >1000</text>
<text x="193.60" y="610.60" font-size="12" fill="#333" text-anchor="middle" font-weight="normal" font-style="normal" >1500</text>
<text x="623.80" y="606.50" font-size="12" fill="#333" text-anchor="middle" font-weight="normal" font-style="normal" >1500</text>
<text x="240.00" y="610.60" font-size="12" fill="#333" text-anchor="middle" font-weight="normal" font-style="normal" >2000</text>
<text x="670.00" y="606.50" font-size="12" fill="#333" text-anchor="middle" font-weight="normal" font-style="normal" >2000</text>
<text x="154.80" y="624.00" font-size="11.5" fill="#333" text-anchor="middle" font-weight="normal" font-style="normal" >Integer Mass (u)</text>
<text x="595.00" y="623.00" font-size="11.5" fill="#333" text-anchor="middle" font-weight="normal" font-style="normal" >Integer Mass (u)</text>
<text transform="translate(20.6,505.7) rotate(-90)" font-size="11.5" fill="#333" text-anchor="middle">Non-Integer Mass (u)</text>
<text transform="translate(448.4,504.3) rotate(-90)" font-size="11.5" fill="#333" text-anchor="middle">Non-Integer Mass (u)</text>
<text x="6.40" y="416.40" font-size="17" fill="#111" text-anchor="start" font-weight="bold" font-style="normal" >(c)</text>
<text x="433.40" y="416.60" font-size="17" fill="#111" text-anchor="start" font-weight="bold" font-style="normal" >(d)</text>
<g clip-path="url(#cc)">
<line x1="53.7" y1="508.7" x2="262.6" y2="398.0" stroke="#c81e1e" stroke-width="2.1" stroke-dasharray="0.1 3.9" stroke-linecap="round"/>
<line x1="53.7" y1="610.9" x2="262.6" y2="500.2" stroke="#c81e1e" stroke-width="2.1" stroke-dasharray="0.1 3.9" stroke-linecap="round"/>
<ellipse cx="174.5" cy="493.7" rx="91.5" ry="23" transform="rotate(-25.6 174.5 493.7)" fill="#dbe6f3" fill-opacity="0.75" stroke="#9bb4cc" stroke-width="0.8"/>
<line x1="54" y1="559.8" x2="262.6" y2="448.8" stroke="#2c7ac0" stroke-width="2.1" stroke-dasharray="0.1 4.0" stroke-linecap="round"/>
<polyline points="125.5,520.4 150.7,503.1 174.4,490.5 197,471.4 209.7,468.1 248.1,450" fill="none" stroke="#4a4a4a" stroke-width="2.2" stroke-dasharray="6 4"/>
<circle cx="125.5" cy="520.4" r="4.7" fill="#8a8a8a" stroke="#1a1a1a" stroke-width="1.6"/>
<circle cx="150.7" cy="503.1" r="4.7" fill="#8a8a8a" stroke="#1a1a1a" stroke-width="1.6"/>
<circle cx="174.4" cy="490.5" r="4.7" fill="#8a8a8a" stroke="#1a1a1a" stroke-width="1.6"/>
<circle cx="197.0" cy="471.4" r="4.7" fill="#8a8a8a" stroke="#1a1a1a" stroke-width="1.6"/>
<circle cx="209.7" cy="468.1" r="4.7" fill="#8a8a8a" stroke="#1a1a1a" stroke-width="1.6"/>
<circle cx="248.1" cy="450.0" r="4.7" fill="#8a8a8a" stroke="#1a1a1a" stroke-width="1.6"/>
<circle cx="122.9" cy="506.4" r="4.0" fill="#3f78c8" stroke="#3a72c0" stroke-width="0.6"/>
<circle cx="129.6" cy="508.5" r="4.0" fill="#3f78c8" stroke="#3a72c0" stroke-width="0.6"/>
<circle cx="137.6" cy="506.4" r="4.0" fill="#3f78c8" stroke="#3a72c0" stroke-width="0.6"/>
<circle cx="141.6" cy="503.7" r="4.0" fill="#3f78c8" stroke="#3a72c0" stroke-width="0.6"/>
<circle cx="149.1" cy="492.2" r="4.0" fill="#3f78c8" stroke="#3a72c0" stroke-width="0.6"/>
<circle cx="151.8" cy="507.7" r="4.0" fill="#3f78c8" stroke="#3a72c0" stroke-width="0.6"/>
<circle cx="157.7" cy="506.4" r="4.0" fill="#3f78c8" stroke="#3a72c0" stroke-width="0.6"/>
<circle cx="163.1" cy="493.0" r="4.0" fill="#3f78c8" stroke="#3a72c0" stroke-width="0.6"/>
<circle cx="172.4" cy="483.6" r="4.0" fill="#3f78c8" stroke="#3a72c0" stroke-width="0.6"/>
<circle cx="177.0" cy="486.3" r="4.0" fill="#3f78c8" stroke="#3a72c0" stroke-width="0.6"/>
<circle cx="183.2" cy="487.6" r="4.0" fill="#3f78c8" stroke="#3a72c0" stroke-width="0.6"/>
<circle cx="187.2" cy="491.1" r="4.0" fill="#3f78c8" stroke="#3a72c0" stroke-width="0.6"/>
<circle cx="192.5" cy="484.9" r="4.0" fill="#3f78c8" stroke="#3a72c0" stroke-width="0.6"/>
<circle cx="189.9" cy="479.6" r="4.0" fill="#3f78c8" stroke="#3a72c0" stroke-width="0.6"/>
<circle cx="193.9" cy="470.2" r="4.0" fill="#3f78c8" stroke="#3a72c0" stroke-width="0.6"/>
<circle cx="195.8" cy="474.2" r="4.0" fill="#3f78c8" stroke="#3a72c0" stroke-width="0.6"/>
<circle cx="200.6" cy="480.9" r="4.0" fill="#3f78c8" stroke="#3a72c0" stroke-width="0.6"/>
<circle cx="197.9" cy="493.0" r="4.0" fill="#3f78c8" stroke="#3a72c0" stroke-width="0.6"/>
<circle cx="206.5" cy="463.5" r="4.0" fill="#3f78c8" stroke="#3a72c0" stroke-width="0.6"/>
<circle cx="215.3" cy="475.6" r="4.0" fill="#3f78c8" stroke="#3a72c0" stroke-width="0.6"/>
<circle cx="215.3" cy="490.3" r="4.0" fill="#3f78c8" stroke="#3a72c0" stroke-width="0.6"/>
<circle cx="217.0" cy="488.0" r="4.0" fill="#3f78c8" stroke="#3a72c0" stroke-width="0.6"/>
<circle cx="228.7" cy="467.5" r="4.0" fill="#3f78c8" stroke="#3a72c0" stroke-width="0.6"/>
<circle cx="235.4" cy="462.2" r="4.0" fill="#3f78c8" stroke="#3a72c0" stroke-width="0.6"/>
<circle cx="212.6" cy="482.3" r="4.0" fill="#3f78c8" stroke="#3a72c0" stroke-width="0.6"/>
<circle cx="146.0" cy="500.0" r="4.0" fill="#3f78c8" stroke="#3a72c0" stroke-width="0.6"/>
<circle cx="154.0" cy="505.0" r="4.0" fill="#3f78c8" stroke="#3a72c0" stroke-width="0.6"/>
<circle cx="165.0" cy="491.0" r="4.0" fill="#3f78c8" stroke="#3a72c0" stroke-width="0.6"/>
<circle cx="181.0" cy="480.0" r="4.0" fill="#3f78c8" stroke="#3a72c0" stroke-width="0.6"/>
<circle cx="203.0" cy="476.0" r="4.0" fill="#3f78c8" stroke="#3a72c0" stroke-width="0.6"/>
<circle cx="226.0" cy="472.0" r="4.0" fill="#3f78c8" stroke="#3a72c0" stroke-width="0.6"/>
<circle cx="105.5" cy="519.8" r="3.3" fill="#ffffff" stroke="#1f73c8" stroke-width="1.8"/>
<circle cx="104.1" cy="531.3" r="3.3" fill="#ffffff" stroke="#1f73c8" stroke-width="1.8"/>
<circle cx="117.5" cy="517.1" r="3.3" fill="#ffffff" stroke="#1f73c8" stroke-width="1.8"/>
<circle cx="122.9" cy="505.0" r="3.3" fill="#ffffff" stroke="#1f73c8" stroke-width="1.8"/>
<circle cx="124.2" cy="510.4" r="3.3" fill="#ffffff" stroke="#1f73c8" stroke-width="1.8"/>
<circle cx="120.2" cy="513.1" r="3.3" fill="#ffffff" stroke="#1f73c8" stroke-width="1.8"/>
<circle cx="127.7" cy="508.5" r="3.3" fill="#ffffff" stroke="#1f73c8" stroke-width="1.8"/>
<circle cx="149.2" cy="457.5" r="4.6" fill="rgba(246,240,70,0.75)" stroke="rgba(225,205,50,0.6)" stroke-width="0.9"/>
<circle cx="158.5" cy="458.2" r="4.6" fill="rgba(246,240,70,0.75)" stroke="rgba(225,205,50,0.6)" stroke-width="0.9"/>
<circle cx="167.8" cy="458.8" r="4.6" fill="rgba(246,240,70,0.75)" stroke="rgba(225,205,50,0.6)" stroke-width="0.9"/>
<circle cx="177.1" cy="459.5" r="4.6" fill="rgba(246,240,70,0.75)" stroke="rgba(225,205,50,0.6)" stroke-width="0.9"/>
<circle cx="186.4" cy="460.1" r="4.6" fill="rgba(246,240,70,0.75)" stroke="rgba(225,205,50,0.6)" stroke-width="0.9"/>
<circle cx="195.6" cy="460.8" r="4.6" fill="rgba(246,240,70,0.75)" stroke="rgba(225,205,50,0.6)" stroke-width="0.9"/>
<circle cx="204.9" cy="461.4" r="4.6" fill="rgba(246,240,70,0.75)" stroke="rgba(225,205,50,0.6)" stroke-width="0.9"/>
<circle cx="214.2" cy="462.1" r="4.6" fill="rgba(246,240,70,0.75)" stroke="rgba(225,205,50,0.6)" stroke-width="0.9"/>
<circle cx="223.5" cy="462.7" r="4.6" fill="rgba(246,240,70,0.75)" stroke="rgba(225,205,50,0.6)" stroke-width="0.9"/>
<circle cx="232.8" cy="463.4" r="4.6" fill="rgba(246,240,70,0.75)" stroke="rgba(225,205,50,0.6)" stroke-width="0.9"/>
<circle cx="242.0" cy="464.0" r="4.6" fill="rgba(246,240,70,0.75)" stroke="rgba(225,205,50,0.6)" stroke-width="0.9"/>
<circle cx="251.3" cy="464.7" r="4.6" fill="rgba(246,240,70,0.75)" stroke="rgba(225,205,50,0.6)" stroke-width="0.9"/>
<polyline points="84.3,453.0 112.1,454.9 140.0,456.8 167.8,458.8 195.6,460.7 223.5,462.7 251.3,464.6" fill="none" stroke="#2ee02e" stroke-width="2.2" stroke-dasharray="8 20" stroke-dashoffset="-13.5"/>
<circle cx="84.3" cy="453.0" r="4.3" fill="rgba(30,225,30,0.9)" stroke="rgba(30,140,30,0.85)" stroke-width="0.9"/>
<circle cx="112.1" cy="454.9" r="4.3" fill="rgba(30,225,30,0.9)" stroke="rgba(30,140,30,0.85)" stroke-width="0.9"/>
<circle cx="140.0" cy="456.8" r="4.3" fill="rgba(30,225,30,0.9)" stroke="rgba(30,140,30,0.85)" stroke-width="0.9"/>
<circle cx="167.8" cy="458.8" r="4.3" fill="rgba(30,225,30,0.9)" stroke="rgba(30,140,30,0.85)" stroke-width="0.9"/>
<circle cx="195.6" cy="460.7" r="4.3" fill="rgba(30,225,30,0.9)" stroke="rgba(30,140,30,0.85)" stroke-width="0.9"/>
<circle cx="223.5" cy="462.7" r="4.3" fill="rgba(30,225,30,0.9)" stroke="rgba(30,140,30,0.85)" stroke-width="0.9"/>
<circle cx="251.3" cy="464.6" r="4.3" fill="rgba(30,225,30,0.9)" stroke="rgba(30,140,30,0.85)" stroke-width="0.9"/>
<circle cx="149.2" cy="559.7" r="4.6" fill="rgba(246,240,70,0.6)" stroke="rgba(225,205,50,0.6)" stroke-width="0.9"/>
<circle cx="158.5" cy="560.4" r="4.6" fill="rgba(246,240,70,0.6)" stroke="rgba(225,205,50,0.6)" stroke-width="0.9"/>
<circle cx="167.8" cy="561.0" r="4.6" fill="rgba(246,240,70,0.6)" stroke="rgba(225,205,50,0.6)" stroke-width="0.9"/>
<circle cx="177.1" cy="561.7" r="4.6" fill="rgba(246,240,70,0.6)" stroke="rgba(225,205,50,0.6)" stroke-width="0.9"/>
<circle cx="186.4" cy="562.3" r="4.6" fill="rgba(246,240,70,0.6)" stroke="rgba(225,205,50,0.6)" stroke-width="0.9"/>
<circle cx="195.6" cy="563.0" r="4.6" fill="rgba(246,240,70,0.6)" stroke="rgba(225,205,50,0.6)" stroke-width="0.9"/>
<circle cx="204.9" cy="563.6" r="4.6" fill="rgba(246,240,70,0.6)" stroke="rgba(225,205,50,0.6)" stroke-width="0.9"/>
<circle cx="214.2" cy="564.3" r="4.6" fill="rgba(246,240,70,0.6)" stroke="rgba(225,205,50,0.6)" stroke-width="0.9"/>
<circle cx="223.5" cy="564.9" r="4.6" fill="rgba(246,240,70,0.6)" stroke="rgba(225,205,50,0.6)" stroke-width="0.9"/>
<circle cx="232.8" cy="565.6" r="4.6" fill="rgba(246,240,70,0.6)" stroke="rgba(225,205,50,0.6)" stroke-width="0.9"/>
<circle cx="242.0" cy="566.2" r="4.6" fill="rgba(246,240,70,0.6)" stroke="rgba(225,205,50,0.6)" stroke-width="0.9"/>
<circle cx="251.3" cy="566.9" r="4.6" fill="rgba(246,240,70,0.6)" stroke="rgba(225,205,50,0.6)" stroke-width="0.9"/>
<polyline points="84.3,555.2 112.1,557.1 140.0,559.0 167.8,561.0 195.6,562.9 223.5,564.9 251.3,566.8" fill="none" stroke="#2ee02e" stroke-width="2.2" stroke-dasharray="8 20" stroke-dashoffset="-13.5"/>
<circle cx="84.3" cy="555.2" r="4.3" fill="rgba(30,225,30,0.75)" stroke="rgba(30,140,30,0.85)" stroke-width="0.9"/>
<circle cx="112.1" cy="557.1" r="4.3" fill="rgba(30,225,30,0.75)" stroke="rgba(30,140,30,0.85)" stroke-width="0.9"/>
<circle cx="140.0" cy="559.0" r="4.3" fill="rgba(30,225,30,0.75)" stroke="rgba(30,140,30,0.85)" stroke-width="0.9"/>
<circle cx="167.8" cy="561.0" r="4.3" fill="rgba(30,225,30,0.75)" stroke="rgba(30,140,30,0.85)" stroke-width="0.9"/>
<circle cx="195.6" cy="562.9" r="4.3" fill="rgba(30,225,30,0.75)" stroke="rgba(30,140,30,0.85)" stroke-width="0.9"/>
<circle cx="223.5" cy="564.9" r="4.3" fill="rgba(30,225,30,0.75)" stroke="rgba(30,140,30,0.85)" stroke-width="0.9"/>
<circle cx="251.3" cy="566.8" r="4.3" fill="rgba(30,225,30,0.75)" stroke="rgba(30,140,30,0.85)" stroke-width="0.9"/>
<polyline points="89.4,384.0 113.5,403.4 137.6,422.9 161.7,442.4 185.8,461.8 209.9,481.3 234.0,500.8 258.1,520.3" fill="none" stroke="#e43cc4" stroke-width="2.2" stroke-dasharray="9 21.7" stroke-dashoffset="-10.85"/>
<circle cx="89.4" cy="384.0" r="4.3" fill="#da3fbf" stroke="#c05aa8" stroke-width="0.6"/>
<circle cx="113.5" cy="403.4" r="4.3" fill="#da3fbf" stroke="#c05aa8" stroke-width="0.6"/>
<circle cx="137.6" cy="422.9" r="4.3" fill="#da3fbf" stroke="#c05aa8" stroke-width="0.6"/>
<circle cx="161.7" cy="442.4" r="4.3" fill="#da3fbf" stroke="#c05aa8" stroke-width="0.6"/>
<circle cx="185.8" cy="461.8" r="4.3" fill="#da3fbf" stroke="#c05aa8" stroke-width="0.6"/>
<circle cx="209.9" cy="481.3" r="4.3" fill="#da3fbf" stroke="#c05aa8" stroke-width="0.6"/>
<circle cx="234.0" cy="500.8" r="4.3" fill="#da3fbf" stroke="#c05aa8" stroke-width="0.6"/>
<circle cx="258.1" cy="520.3" r="4.3" fill="#da3fbf" stroke="#c05aa8" stroke-width="0.6"/>
<polyline points="89.4,486.2 113.5,505.6 137.6,525.1 161.7,544.6 185.8,564.0 209.9,583.5 234.0,603.0 258.1,622.5" fill="none" stroke="#e43cc4" stroke-width="2.2" stroke-dasharray="9 21.7" stroke-dashoffset="-10.85"/>
<circle cx="89.4" cy="486.2" r="4.3" fill="#da3fbf" stroke="#c05aa8" stroke-width="0.6"/>
<circle cx="113.5" cy="505.6" r="4.3" fill="#da3fbf" stroke="#c05aa8" stroke-width="0.6"/>
<circle cx="137.6" cy="525.1" r="4.3" fill="#da3fbf" stroke="#c05aa8" stroke-width="0.6"/>
<circle cx="161.7" cy="544.6" r="4.3" fill="#da3fbf" stroke="#c05aa8" stroke-width="0.6"/>
<circle cx="185.8" cy="564.0" r="4.3" fill="#da3fbf" stroke="#c05aa8" stroke-width="0.6"/>
<circle cx="209.9" cy="583.5" r="4.3" fill="#da3fbf" stroke="#c05aa8" stroke-width="0.6"/>
<circle cx="234.0" cy="603.0" r="4.3" fill="#da3fbf" stroke="#c05aa8" stroke-width="0.6"/>
<circle cx="258.1" cy="622.5" r="4.3" fill="#da3fbf" stroke="#c05aa8" stroke-width="0.6"/>
</g>
<circle cx="89.6" cy="589.1" r="4.3" fill="#da3fbf" stroke="#c05aa8" stroke-width="0.6"/>
<text transform="translate(56.5,519.5) rotate(-29.5)" font-size="12" fill="#d2461e">Scarcine</text>
<text transform="translate(181.5,538.5) rotate(-29.5)" font-size="12" fill="#d2461e">Scarcine</text>
<text transform="translate(50,556) rotate(-27.5)" font-size="11" fill="#2a7ac4">Averagine</text>
<g clip-path="url(#cd)">
<line x1="485" y1="508.8" x2="693.2" y2="400.1" stroke="#c81e1e" stroke-width="2.1" stroke-dasharray="0.1 3.9" stroke-linecap="round"/>
<line x1="485" y1="609.6" x2="693.2" y2="500.9" stroke="#c81e1e" stroke-width="2.1" stroke-dasharray="0.1 3.9" stroke-linecap="round"/>
<ellipse cx="601.8" cy="497" rx="88" ry="22.5" transform="rotate(-24.8 601.8 497)" fill="#dbe6f3" fill-opacity="0.75" stroke="#9bb4cc" stroke-width="0.8"/>
<line x1="485" y1="559.2" x2="693.2" y2="449.3" stroke="#2c7ac0" stroke-width="2.1" stroke-dasharray="0.1 4.0" stroke-linecap="round"/>
<circle cx="559.6" cy="508.3" r="4.0" fill="#3f78c8" stroke="#3a72c0" stroke-width="0.6"/>
<circle cx="567.6" cy="505.6" r="4.0" fill="#3f78c8" stroke="#3a72c0" stroke-width="0.6"/>
<circle cx="574.3" cy="505.6" r="4.0" fill="#3f78c8" stroke="#3a72c0" stroke-width="0.6"/>
<circle cx="581.0" cy="508.3" r="4.0" fill="#3f78c8" stroke="#3a72c0" stroke-width="0.6"/>
<circle cx="587.7" cy="505.6" r="4.0" fill="#3f78c8" stroke="#3a72c0" stroke-width="0.6"/>
<circle cx="589.5" cy="503.5" r="4.0" fill="#3f78c8" stroke="#3a72c0" stroke-width="0.6"/>
<circle cx="579.1" cy="493.1" r="4.0" fill="#3f78c8" stroke="#3a72c0" stroke-width="0.6"/>
<circle cx="593.1" cy="492.3" r="4.0" fill="#3f78c8" stroke="#3a72c0" stroke-width="0.6"/>
<circle cx="603.8" cy="485.0" r="4.0" fill="#3f78c8" stroke="#3a72c0" stroke-width="0.6"/>
<circle cx="607.8" cy="486.1" r="4.0" fill="#3f78c8" stroke="#3a72c0" stroke-width="0.6"/>
<circle cx="615.8" cy="489.6" r="4.0" fill="#3f78c8" stroke="#3a72c0" stroke-width="0.6"/>
<circle cx="618.5" cy="490.9" r="4.0" fill="#3f78c8" stroke="#3a72c0" stroke-width="0.6"/>
<circle cx="622.5" cy="487.7" r="4.0" fill="#3f78c8" stroke="#3a72c0" stroke-width="0.6"/>
<circle cx="621.2" cy="478.9" r="4.0" fill="#3f78c8" stroke="#3a72c0" stroke-width="0.6"/>
<circle cx="625.2" cy="474.8" r="4.0" fill="#3f78c8" stroke="#3a72c0" stroke-width="0.6"/>
<circle cx="629.2" cy="482.9" r="4.0" fill="#3f78c8" stroke="#3a72c0" stroke-width="0.6"/>
<circle cx="627.9" cy="493.6" r="4.0" fill="#3f78c8" stroke="#3a72c0" stroke-width="0.6"/>
<circle cx="637.3" cy="464.7" r="4.0" fill="#3f78c8" stroke="#3a72c0" stroke-width="0.6"/>
<circle cx="645.3" cy="476.2" r="4.0" fill="#3f78c8" stroke="#3a72c0" stroke-width="0.6"/>
<circle cx="646.7" cy="488.8" r="4.0" fill="#3f78c8" stroke="#3a72c0" stroke-width="0.6"/>
<circle cx="648.0" cy="491.0" r="4.0" fill="#3f78c8" stroke="#3a72c0" stroke-width="0.6"/>
<circle cx="658.7" cy="469.5" r="4.0" fill="#3f78c8" stroke="#3a72c0" stroke-width="0.6"/>
<circle cx="660.1" cy="466.8" r="4.0" fill="#3f78c8" stroke="#3a72c0" stroke-width="0.6"/>
<circle cx="666.8" cy="462.8" r="4.0" fill="#3f78c8" stroke="#3a72c0" stroke-width="0.6"/>
<circle cx="669.0" cy="463.5" r="4.0" fill="#3f78c8" stroke="#3a72c0" stroke-width="0.6"/>
<circle cx="594.2" cy="492.9" r="4.0" fill="#3f78c8" stroke="#3a72c0" stroke-width="0.6"/>
<circle cx="591.4" cy="504.9" r="4.0" fill="#3f78c8" stroke="#3a72c0" stroke-width="0.6"/>
<circle cx="623.9" cy="476.7" r="4.0" fill="#3f78c8" stroke="#3a72c0" stroke-width="0.6"/>
<circle cx="630.9" cy="482.3" r="4.0" fill="#3f78c8" stroke="#3a72c0" stroke-width="0.6"/>
<circle cx="628.8" cy="493.6" r="4.0" fill="#3f78c8" stroke="#3a72c0" stroke-width="0.6"/>
<circle cx="534.1" cy="531.1" r="3.3" fill="#ffffff" stroke="#1f73c8" stroke-width="1.8"/>
<circle cx="536.8" cy="519.0" r="3.3" fill="#ffffff" stroke="#1f73c8" stroke-width="1.8"/>
<circle cx="548.9" cy="518.2" r="3.3" fill="#ffffff" stroke="#1f73c8" stroke-width="1.8"/>
<circle cx="554.2" cy="504.8" r="3.3" fill="#ffffff" stroke="#1f73c8" stroke-width="1.8"/>
<circle cx="552.9" cy="512.3" r="3.3" fill="#ffffff" stroke="#1f73c8" stroke-width="1.8"/>
<circle cx="573.0" cy="501.6" r="3.3" fill="#ffffff" stroke="#1f73c8" stroke-width="1.8"/>
<polyline points="541.3,481.6 563.3,471.9 605.9,452.9 692.4,414.8" fill="none" stroke="#e52222" stroke-width="2.4" stroke-dasharray="7 5"/>
<polyline points="541.3,582.4 563.3,572.7 605.9,553.7 692.4,515.6" fill="none" stroke="#e52222" stroke-width="2.4" stroke-dasharray="7 5"/>
</g>
<circle cx="541.3" cy="481.6" r="4.8" fill="#ee1111" stroke="#dd1111" stroke-width="0.5"/>
<circle cx="563.3" cy="471.9" r="4.8" fill="#ee1111" stroke="#dd1111" stroke-width="0.5"/>
<circle cx="605.9" cy="452.9" r="4.8" fill="#ee1111" stroke="#dd1111" stroke-width="0.5"/>
<circle cx="692.4" cy="414.8" r="4.8" fill="#ee1111" stroke="#dd1111" stroke-width="0.5"/>
<circle cx="541.3" cy="582.4" r="4.8" fill="#ee1111" stroke="#dd1111" stroke-width="0.5"/>
<circle cx="563.3" cy="572.7" r="4.8" fill="#ee1111" stroke="#dd1111" stroke-width="0.5"/>
<circle cx="605.9" cy="553.7" r="4.8" fill="#ee1111" stroke="#dd1111" stroke-width="0.5"/>
<circle cx="692.4" cy="515.6" r="4.8" fill="#ee1111" stroke="#dd1111" stroke-width="0.5"/>
<text transform="translate(488,520.5) rotate(-30)" font-size="12" fill="#d2461e">Scarcine</text>
<text transform="translate(639.7,520.5) rotate(-30)" font-size="12" fill="#d2461e">Scarcine</text>
<text transform="translate(489,571) rotate(-30)" font-size="11" fill="#2a7ac4">Averagine</text>
<text x="492" y="478" font-size="11.5" font-weight="bold" fill="#ee1111">G1(OH)<tspan font-size="8.5" dy="2.5">2</tspan></text>
<text x="517.2" y="462.2" font-size="11.5" font-weight="bold" fill="#ee1111">G2(OH)<tspan font-size="8.5" dy="2.5">4</tspan></text>
<text x="556.2" y="444.2" font-size="11.5" font-weight="bold" fill="#ee1111">G3(OH)<tspan font-size="8.5" dy="2.5">8</tspan></text>
<text x="627.8" y="417.8" font-size="11.5" font-weight="bold" fill="#ee1111">G4(OH)<tspan font-size="8.5" dy="2.5">16</tspan></text>
<text x="330.20" y="423.30" font-size="11.5" fill="#333" text-anchor="start" font-weight="normal" font-style="normal" word-spacing="3" textLength="76.7" lengthAdjust="spacing">Ultramark 1621</text>
<text x="330.20" y="441.60" font-size="11.5" fill="#333" text-anchor="start" font-weight="normal" font-style="normal" textLength="80.3" lengthAdjust="spacingAndGlyphs">Agilent tune mix</text>
<text x="330.20" y="460.60" font-size="11.5" fill="#333" text-anchor="start" font-weight="normal" font-style="normal" textLength="83.9" lengthAdjust="spacingAndGlyphs">CsI nanoclusters</text>
<text x="330.20" y="478.80" font-size="11.5" fill="#1f2a6a" text-anchor="start" font-weight="normal" font-style="normal" textLength="59" lengthAdjust="spacingAndGlyphs">Peptide Mix</text>
<circle cx="320.1" cy="419.0" r="4.2" fill="#f4ef72" stroke="#e3cf45" stroke-width="1"/>
<circle cx="320.1" cy="438.6" r="4.2" fill="#2fd22f" stroke="#2a8f2a" stroke-width="1"/>
<circle cx="320.1" cy="457.3" r="4.2" fill="#e63fc9" stroke="#c05aa8" stroke-width="1"/>
<circle cx="320.1" cy="475.6" r="4.2" fill="#9a9a9a" stroke="#333" stroke-width="1.3"/>
<text transform="translate(291.6,447) rotate(-90)" font-size="11.5" fill="#333" text-anchor="middle">Traditional</text>
<text transform="translate(305.4,447) rotate(-90)" font-size="11.5" fill="#333" text-anchor="middle">Standards</text>
<circle cx="292.6" cy="512.3" r="4.2" fill="#5b8fd0" stroke="#4a7abb" stroke-width="1"/>
<circle cx="292.6" cy="545.1" r="3.6" fill="#fff" stroke="#1f73c8" stroke-width="1.8"/>
<text x="301.40" y="515.90" font-size="11.5" fill="#333" text-anchor="start" font-weight="normal" font-style="normal" textLength="108.6" lengthAdjust="spacingAndGlyphs">Identified BSA trypsin</text>
<text x="301.40" y="529.30" font-size="11.5" fill="#333" text-anchor="start" font-weight="normal" font-style="normal" textLength="81.6" lengthAdjust="spacingAndGlyphs">digest fragments</text>
<text x="299.80" y="548.70" font-size="11.5" fill="#333" text-anchor="start" font-weight="normal" font-style="normal" textLength="123.4" lengthAdjust="spacingAndGlyphs">Unidentified BSA trypsin</text>
<text x="299.80" y="562.20" font-size="11.5" fill="#333" text-anchor="start" font-weight="normal" font-style="normal" textLength="82.2" lengthAdjust="spacingAndGlyphs">digest fragments</text>
<circle cx="303.4" cy="593.6" r="4.5" fill="#ee1111" stroke="#dd1111" stroke-width="0.5"/>
<text x="314.90" y="597.40" font-size="11.5" fill="#d2401a" text-anchor="start" font-weight="bold" font-style="normal" word-spacing="2.5" textLength="99.2" lengthAdjust="spacing">Mass defect tuned</text>
<text x="314.90" y="611.00" font-size="11.5" fill="#d2401a" text-anchor="start" font-weight="bold" font-style="normal" textLength="60.4" lengthAdjust="spacingAndGlyphs">dendrimers</text>
</svg></body></html>
